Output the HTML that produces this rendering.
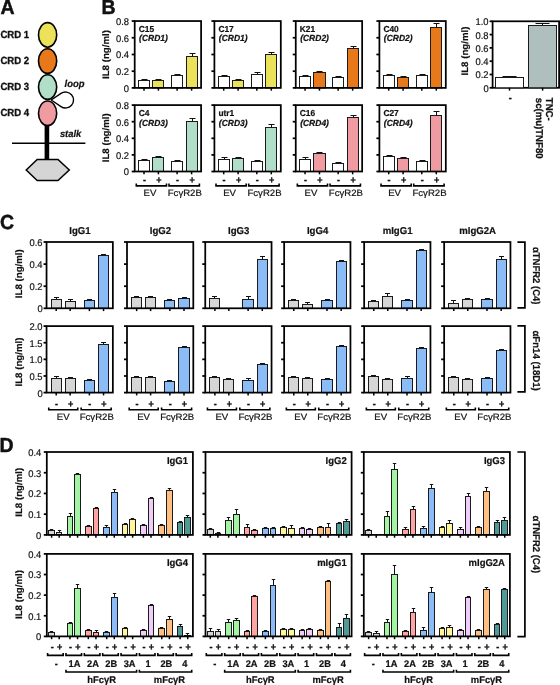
<!DOCTYPE html>
<html><head><meta charset="utf-8"><title>Figure</title>
<style>
html,body{margin:0;padding:0;background:#fff;}
body{width:560px;height:685px;overflow:hidden;}
svg{display:block;font-family:'Liberation Sans', Arial, sans-serif;text-rendering:geometricPrecision;}
</style></head><body>
<svg width="560" height="685" viewBox="0 0 560 685">
<rect width="560" height="685" fill="#fff"/>
<text transform="translate(0.60 13.90) scale(1.0 1.04)" font-size="19.5" font-weight="bold" fill="#111" stroke="#111" stroke-width="0.45">A</text>
<text transform="translate(0.40 37.65) scale(1.0 1.08)" font-size="9.6" font-weight="bold" fill="#111" stroke="#111" stroke-width="0.3">CRD 1</text>
<text transform="translate(0.40 63.75) scale(1.0 1.08)" font-size="9.6" font-weight="bold" fill="#111" stroke="#111" stroke-width="0.3">CRD 2</text>
<text transform="translate(0.40 89.85) scale(1.0 1.08)" font-size="9.6" font-weight="bold" fill="#111" stroke="#111" stroke-width="0.3">CRD 3</text>
<text transform="translate(0.40 116.05) scale(1.0 1.08)" font-size="9.6" font-weight="bold" fill="#111" stroke="#111" stroke-width="0.3">CRD 4</text>
<rect x="44.6" y="120" width="4.6" height="40" fill="#000"/>
<line x1="12.00" y1="143.30" x2="85.40" y2="143.30" stroke="#000" stroke-width="1.5" stroke-linecap="butt"/>
<path d="M51.25 100 L61 93.4 A8 8 0 1 1 61 106.6 Z" fill="none" stroke="#000" stroke-width="1.35" stroke-linejoin="round"/>
<ellipse cx="47.6" cy="34.9" rx="9.1" ry="12.3" fill="#ebe25a" stroke="#000" stroke-width="1.6"/>
<ellipse cx="47.6" cy="61.0" rx="9.1" ry="12.3" fill="#e8791b" stroke="#000" stroke-width="1.6"/>
<ellipse cx="47.6" cy="87.1" rx="9.1" ry="12.3" fill="#b1dec8" stroke="#000" stroke-width="1.6"/>
<ellipse cx="47.6" cy="113.3" rx="9.1" ry="12.3" fill="#f09aa2" stroke="#000" stroke-width="1.6"/>
<text transform="translate(64.60 87.40) scale(1.0 1.04)" font-size="9.5" font-weight="bold" font-style="italic" fill="#111" stroke="#111" stroke-width="0.2">loop</text>
<text transform="translate(59.90 136.80) scale(1.0 1.04)" font-size="9.4" font-weight="bold" font-style="italic" fill="#111" stroke="#111" stroke-width="0.2">stalk</text>
<polygon points="26.2,170 37.2,159.4 58,159.4 69.3,170 58,180.6 37.2,180.6" fill="#d5d5d5" stroke="#000" stroke-width="1.5"/>
<text transform="translate(101.50 13.90) scale(1.0 1.04)" font-size="19.5" font-weight="bold" fill="#111" stroke="#111" stroke-width="0.45">B</text>
<line x1="144.50" y1="79.50" x2="144.50" y2="80.00" stroke="#111" stroke-width="1.0" stroke-linecap="butt"/>
<line x1="141.50" y1="79.50" x2="147.50" y2="79.50" stroke="#111" stroke-width="1.0" stroke-linecap="butt"/>
<rect x="138.50" y="80.50" width="11.00" height="7.40" fill="#ffffff" stroke="#1a1a1a" stroke-width="1.0"/>
<line x1="158.50" y1="79.50" x2="158.50" y2="80.00" stroke="#111" stroke-width="1.0" stroke-linecap="butt"/>
<line x1="155.50" y1="79.50" x2="161.50" y2="79.50" stroke="#111" stroke-width="1.0" stroke-linecap="butt"/>
<rect x="152.50" y="80.50" width="11.00" height="7.40" fill="#ebe25a" stroke="#1a1a1a" stroke-width="1.0"/>
<line x1="177.50" y1="74.50" x2="177.50" y2="75.00" stroke="#111" stroke-width="1.0" stroke-linecap="butt"/>
<line x1="174.50" y1="74.50" x2="180.50" y2="74.50" stroke="#111" stroke-width="1.0" stroke-linecap="butt"/>
<rect x="171.50" y="75.50" width="11.00" height="12.40" fill="#ffffff" stroke="#1a1a1a" stroke-width="1.0"/>
<line x1="192.50" y1="53.50" x2="192.50" y2="56.00" stroke="#111" stroke-width="1.0" stroke-linecap="butt"/>
<line x1="189.50" y1="53.50" x2="195.50" y2="53.50" stroke="#111" stroke-width="1.0" stroke-linecap="butt"/>
<rect x="186.50" y="56.50" width="11.00" height="31.40" fill="#ebe25a" stroke="#1a1a1a" stroke-width="1.0"/>
<rect x="134.70" y="21.05" width="66.40" height="66.85" fill="none" stroke="#000" stroke-width="1.75"/>
<line x1="131.70" y1="21.05" x2="134.70" y2="21.05" stroke="#000" stroke-width="1.75" stroke-linecap="butt"/>
<line x1="131.70" y1="37.76" x2="134.70" y2="37.76" stroke="#000" stroke-width="1.75" stroke-linecap="butt"/>
<line x1="131.70" y1="54.48" x2="134.70" y2="54.48" stroke="#000" stroke-width="1.75" stroke-linecap="butt"/>
<line x1="131.70" y1="71.19" x2="134.70" y2="71.19" stroke="#000" stroke-width="1.75" stroke-linecap="butt"/>
<line x1="131.70" y1="87.90" x2="134.70" y2="87.90" stroke="#000" stroke-width="1.75" stroke-linecap="butt"/>
<line x1="144.00" y1="87.90" x2="144.00" y2="90.70" stroke="#000" stroke-width="1.5" stroke-linecap="butt"/>
<line x1="158.40" y1="87.90" x2="158.40" y2="90.70" stroke="#000" stroke-width="1.5" stroke-linecap="butt"/>
<line x1="177.10" y1="87.90" x2="177.10" y2="90.70" stroke="#000" stroke-width="1.5" stroke-linecap="butt"/>
<line x1="191.60" y1="87.90" x2="191.60" y2="90.70" stroke="#000" stroke-width="1.5" stroke-linecap="butt"/>
<text transform="translate(138.70 31.65) scale(1.0 1.04)" font-size="8.4" font-weight="bold" fill="#111" stroke="#111" stroke-width="0.2">C15</text>
<text transform="translate(139.10 41.45) scale(1.0 1.04)" font-size="8.5" font-weight="bold" font-style="italic" fill="#111" stroke="#111" stroke-width="0.2">(CRD1)</text>
<line x1="224.50" y1="75.50" x2="224.50" y2="76.00" stroke="#111" stroke-width="1.0" stroke-linecap="butt"/>
<line x1="221.50" y1="75.50" x2="227.50" y2="75.50" stroke="#111" stroke-width="1.0" stroke-linecap="butt"/>
<rect x="218.50" y="76.50" width="11.00" height="11.40" fill="#ffffff" stroke="#1a1a1a" stroke-width="1.0"/>
<line x1="238.50" y1="79.50" x2="238.50" y2="80.00" stroke="#111" stroke-width="1.0" stroke-linecap="butt"/>
<line x1="235.50" y1="79.50" x2="241.50" y2="79.50" stroke="#111" stroke-width="1.0" stroke-linecap="butt"/>
<rect x="232.50" y="80.50" width="11.00" height="7.40" fill="#ebe25a" stroke="#1a1a1a" stroke-width="1.0"/>
<line x1="257.50" y1="72.50" x2="257.50" y2="74.00" stroke="#111" stroke-width="1.0" stroke-linecap="butt"/>
<line x1="254.50" y1="72.50" x2="260.50" y2="72.50" stroke="#111" stroke-width="1.0" stroke-linecap="butt"/>
<rect x="251.50" y="74.50" width="11.00" height="13.40" fill="#ffffff" stroke="#1a1a1a" stroke-width="1.0"/>
<line x1="271.50" y1="52.50" x2="271.50" y2="54.00" stroke="#111" stroke-width="1.0" stroke-linecap="butt"/>
<line x1="268.50" y1="52.50" x2="274.50" y2="52.50" stroke="#111" stroke-width="1.0" stroke-linecap="butt"/>
<rect x="265.50" y="54.50" width="11.00" height="33.40" fill="#ebe25a" stroke="#1a1a1a" stroke-width="1.0"/>
<rect x="214.40" y="21.05" width="66.40" height="66.85" fill="none" stroke="#000" stroke-width="1.75"/>
<line x1="211.40" y1="21.05" x2="214.40" y2="21.05" stroke="#000" stroke-width="1.75" stroke-linecap="butt"/>
<line x1="211.40" y1="37.76" x2="214.40" y2="37.76" stroke="#000" stroke-width="1.75" stroke-linecap="butt"/>
<line x1="211.40" y1="54.48" x2="214.40" y2="54.48" stroke="#000" stroke-width="1.75" stroke-linecap="butt"/>
<line x1="211.40" y1="71.19" x2="214.40" y2="71.19" stroke="#000" stroke-width="1.75" stroke-linecap="butt"/>
<line x1="211.40" y1="87.90" x2="214.40" y2="87.90" stroke="#000" stroke-width="1.75" stroke-linecap="butt"/>
<line x1="223.70" y1="87.90" x2="223.70" y2="90.70" stroke="#000" stroke-width="1.5" stroke-linecap="butt"/>
<line x1="238.10" y1="87.90" x2="238.10" y2="90.70" stroke="#000" stroke-width="1.5" stroke-linecap="butt"/>
<line x1="256.80" y1="87.90" x2="256.80" y2="90.70" stroke="#000" stroke-width="1.5" stroke-linecap="butt"/>
<line x1="271.30" y1="87.90" x2="271.30" y2="90.70" stroke="#000" stroke-width="1.5" stroke-linecap="butt"/>
<text transform="translate(218.40 31.65) scale(1.0 1.04)" font-size="8.4" font-weight="bold" fill="#111" stroke="#111" stroke-width="0.2">C17</text>
<text transform="translate(218.80 41.45) scale(1.0 1.04)" font-size="8.5" font-weight="bold" font-style="italic" fill="#111" stroke="#111" stroke-width="0.2">(CRD1)</text>
<line x1="305.50" y1="75.50" x2="305.50" y2="76.00" stroke="#111" stroke-width="1.0" stroke-linecap="butt"/>
<line x1="302.50" y1="75.50" x2="308.50" y2="75.50" stroke="#111" stroke-width="1.0" stroke-linecap="butt"/>
<rect x="299.50" y="76.50" width="11.00" height="11.40" fill="#ffffff" stroke="#1a1a1a" stroke-width="1.0"/>
<line x1="319.50" y1="71.50" x2="319.50" y2="72.00" stroke="#111" stroke-width="1.0" stroke-linecap="butt"/>
<line x1="316.50" y1="71.50" x2="322.50" y2="71.50" stroke="#111" stroke-width="1.0" stroke-linecap="butt"/>
<rect x="313.50" y="72.50" width="12.00" height="15.40" fill="#e8791b" stroke="#1a1a1a" stroke-width="1.0"/>
<line x1="338.50" y1="76.50" x2="338.50" y2="77.00" stroke="#111" stroke-width="1.0" stroke-linecap="butt"/>
<line x1="335.50" y1="76.50" x2="341.50" y2="76.50" stroke="#111" stroke-width="1.0" stroke-linecap="butt"/>
<rect x="332.50" y="77.50" width="11.00" height="10.40" fill="#ffffff" stroke="#1a1a1a" stroke-width="1.0"/>
<line x1="353.50" y1="46.50" x2="353.50" y2="48.00" stroke="#111" stroke-width="1.0" stroke-linecap="butt"/>
<line x1="350.50" y1="46.50" x2="356.50" y2="46.50" stroke="#111" stroke-width="1.0" stroke-linecap="butt"/>
<rect x="347.50" y="48.50" width="11.00" height="39.40" fill="#e8791b" stroke="#1a1a1a" stroke-width="1.0"/>
<rect x="295.75" y="21.05" width="66.40" height="66.85" fill="none" stroke="#000" stroke-width="1.75"/>
<line x1="292.75" y1="21.05" x2="295.75" y2="21.05" stroke="#000" stroke-width="1.75" stroke-linecap="butt"/>
<line x1="292.75" y1="37.76" x2="295.75" y2="37.76" stroke="#000" stroke-width="1.75" stroke-linecap="butt"/>
<line x1="292.75" y1="54.48" x2="295.75" y2="54.48" stroke="#000" stroke-width="1.75" stroke-linecap="butt"/>
<line x1="292.75" y1="71.19" x2="295.75" y2="71.19" stroke="#000" stroke-width="1.75" stroke-linecap="butt"/>
<line x1="292.75" y1="87.90" x2="295.75" y2="87.90" stroke="#000" stroke-width="1.75" stroke-linecap="butt"/>
<line x1="305.05" y1="87.90" x2="305.05" y2="90.70" stroke="#000" stroke-width="1.5" stroke-linecap="butt"/>
<line x1="319.45" y1="87.90" x2="319.45" y2="90.70" stroke="#000" stroke-width="1.5" stroke-linecap="butt"/>
<line x1="338.15" y1="87.90" x2="338.15" y2="90.70" stroke="#000" stroke-width="1.5" stroke-linecap="butt"/>
<line x1="352.65" y1="87.90" x2="352.65" y2="90.70" stroke="#000" stroke-width="1.5" stroke-linecap="butt"/>
<text transform="translate(299.75 31.65) scale(1.0 1.04)" font-size="8.4" font-weight="bold" fill="#111" stroke="#111" stroke-width="0.2">K21</text>
<text transform="translate(300.15 41.45) scale(1.0 1.04)" font-size="8.5" font-weight="bold" font-style="italic" fill="#111" stroke="#111" stroke-width="0.2">(CRD2)</text>
<line x1="389.50" y1="74.50" x2="389.50" y2="75.00" stroke="#111" stroke-width="1.0" stroke-linecap="butt"/>
<line x1="386.50" y1="74.50" x2="392.50" y2="74.50" stroke="#111" stroke-width="1.0" stroke-linecap="butt"/>
<rect x="383.50" y="75.50" width="11.00" height="12.40" fill="#ffffff" stroke="#1a1a1a" stroke-width="1.0"/>
<line x1="403.50" y1="76.50" x2="403.50" y2="77.00" stroke="#111" stroke-width="1.0" stroke-linecap="butt"/>
<line x1="400.50" y1="76.50" x2="406.50" y2="76.50" stroke="#111" stroke-width="1.0" stroke-linecap="butt"/>
<rect x="397.50" y="77.50" width="11.00" height="10.40" fill="#e8791b" stroke="#1a1a1a" stroke-width="1.0"/>
<line x1="422.50" y1="74.50" x2="422.50" y2="75.00" stroke="#111" stroke-width="1.0" stroke-linecap="butt"/>
<line x1="419.50" y1="74.50" x2="425.50" y2="74.50" stroke="#111" stroke-width="1.0" stroke-linecap="butt"/>
<rect x="416.50" y="75.50" width="11.00" height="12.40" fill="#ffffff" stroke="#1a1a1a" stroke-width="1.0"/>
<line x1="436.50" y1="23.50" x2="436.50" y2="27.00" stroke="#111" stroke-width="1.0" stroke-linecap="butt"/>
<line x1="433.50" y1="23.50" x2="439.50" y2="23.50" stroke="#111" stroke-width="1.0" stroke-linecap="butt"/>
<rect x="430.50" y="27.50" width="11.00" height="60.40" fill="#e8791b" stroke="#1a1a1a" stroke-width="1.0"/>
<rect x="379.40" y="21.05" width="66.40" height="66.85" fill="none" stroke="#000" stroke-width="1.75"/>
<line x1="376.40" y1="21.05" x2="379.40" y2="21.05" stroke="#000" stroke-width="1.75" stroke-linecap="butt"/>
<line x1="376.40" y1="37.76" x2="379.40" y2="37.76" stroke="#000" stroke-width="1.75" stroke-linecap="butt"/>
<line x1="376.40" y1="54.48" x2="379.40" y2="54.48" stroke="#000" stroke-width="1.75" stroke-linecap="butt"/>
<line x1="376.40" y1="71.19" x2="379.40" y2="71.19" stroke="#000" stroke-width="1.75" stroke-linecap="butt"/>
<line x1="376.40" y1="87.90" x2="379.40" y2="87.90" stroke="#000" stroke-width="1.75" stroke-linecap="butt"/>
<line x1="388.70" y1="87.90" x2="388.70" y2="90.70" stroke="#000" stroke-width="1.5" stroke-linecap="butt"/>
<line x1="403.10" y1="87.90" x2="403.10" y2="90.70" stroke="#000" stroke-width="1.5" stroke-linecap="butt"/>
<line x1="421.80" y1="87.90" x2="421.80" y2="90.70" stroke="#000" stroke-width="1.5" stroke-linecap="butt"/>
<line x1="436.30" y1="87.90" x2="436.30" y2="90.70" stroke="#000" stroke-width="1.5" stroke-linecap="butt"/>
<text transform="translate(383.40 31.65) scale(1.0 1.04)" font-size="8.4" font-weight="bold" fill="#111" stroke="#111" stroke-width="0.2">C40</text>
<text transform="translate(383.80 41.45) scale(1.0 1.04)" font-size="8.5" font-weight="bold" font-style="italic" fill="#111" stroke="#111" stroke-width="0.2">(CRD2)</text>
<text transform="translate(129.00 91.80) scale(1.0 1.04)" font-size="9.4" text-anchor="end" fill="#111" stroke="#111" stroke-width="0.18">0</text>
<text transform="translate(129.00 75.09) scale(1.0 1.04)" font-size="9.4" text-anchor="end" fill="#111" stroke="#111" stroke-width="0.18">0.2</text>
<text transform="translate(129.00 58.38) scale(1.0 1.04)" font-size="9.4" text-anchor="end" fill="#111" stroke="#111" stroke-width="0.18">0.4</text>
<text transform="translate(129.00 41.66) scale(1.0 1.04)" font-size="9.4" text-anchor="end" fill="#111" stroke="#111" stroke-width="0.18">0.6</text>
<text transform="translate(129.00 24.95) scale(1.0 1.04)" font-size="9.4" text-anchor="end" fill="#111" stroke="#111" stroke-width="0.18">0.8</text>
<text transform="translate(109.20 54.50) rotate(-90) scale(1.0 0.97)" font-size="9.7" font-weight="bold" text-anchor="middle" fill="#111" stroke="#111" stroke-width="0.2">IL8 (ng/ml)</text>
<line x1="144.50" y1="159.50" x2="144.50" y2="160.00" stroke="#111" stroke-width="1.0" stroke-linecap="butt"/>
<line x1="141.50" y1="159.50" x2="147.50" y2="159.50" stroke="#111" stroke-width="1.0" stroke-linecap="butt"/>
<rect x="138.50" y="160.50" width="11.00" height="11.00" fill="#ffffff" stroke="#1a1a1a" stroke-width="1.0"/>
<line x1="158.50" y1="156.50" x2="158.50" y2="157.00" stroke="#111" stroke-width="1.0" stroke-linecap="butt"/>
<line x1="155.50" y1="156.50" x2="161.50" y2="156.50" stroke="#111" stroke-width="1.0" stroke-linecap="butt"/>
<rect x="152.50" y="157.50" width="11.00" height="14.00" fill="#b1dec8" stroke="#1a1a1a" stroke-width="1.0"/>
<line x1="177.50" y1="160.50" x2="177.50" y2="161.00" stroke="#111" stroke-width="1.0" stroke-linecap="butt"/>
<line x1="174.50" y1="160.50" x2="180.50" y2="160.50" stroke="#111" stroke-width="1.0" stroke-linecap="butt"/>
<rect x="171.50" y="161.50" width="11.00" height="10.00" fill="#ffffff" stroke="#1a1a1a" stroke-width="1.0"/>
<line x1="192.50" y1="118.50" x2="192.50" y2="121.00" stroke="#111" stroke-width="1.0" stroke-linecap="butt"/>
<line x1="189.50" y1="118.50" x2="195.50" y2="118.50" stroke="#111" stroke-width="1.0" stroke-linecap="butt"/>
<rect x="186.50" y="121.50" width="11.00" height="50.00" fill="#b1dec8" stroke="#1a1a1a" stroke-width="1.0"/>
<rect x="134.70" y="105.10" width="66.40" height="66.40" fill="none" stroke="#000" stroke-width="1.75"/>
<line x1="131.70" y1="105.10" x2="134.70" y2="105.10" stroke="#000" stroke-width="1.75" stroke-linecap="butt"/>
<line x1="131.70" y1="121.70" x2="134.70" y2="121.70" stroke="#000" stroke-width="1.75" stroke-linecap="butt"/>
<line x1="131.70" y1="138.30" x2="134.70" y2="138.30" stroke="#000" stroke-width="1.75" stroke-linecap="butt"/>
<line x1="131.70" y1="154.90" x2="134.70" y2="154.90" stroke="#000" stroke-width="1.75" stroke-linecap="butt"/>
<line x1="131.70" y1="171.50" x2="134.70" y2="171.50" stroke="#000" stroke-width="1.75" stroke-linecap="butt"/>
<line x1="144.00" y1="171.50" x2="144.00" y2="174.30" stroke="#000" stroke-width="1.5" stroke-linecap="butt"/>
<line x1="158.40" y1="171.50" x2="158.40" y2="174.30" stroke="#000" stroke-width="1.5" stroke-linecap="butt"/>
<line x1="177.10" y1="171.50" x2="177.10" y2="174.30" stroke="#000" stroke-width="1.5" stroke-linecap="butt"/>
<line x1="191.60" y1="171.50" x2="191.60" y2="174.30" stroke="#000" stroke-width="1.5" stroke-linecap="butt"/>
<text transform="translate(138.70 115.70) scale(1.0 1.04)" font-size="8.4" font-weight="bold" fill="#111" stroke="#111" stroke-width="0.2">C4</text>
<text transform="translate(139.10 125.50) scale(1.0 1.04)" font-size="8.5" font-weight="bold" font-style="italic" fill="#111" stroke="#111" stroke-width="0.2">(CRD3)</text>
<line x1="224.50" y1="157.50" x2="224.50" y2="159.00" stroke="#111" stroke-width="1.0" stroke-linecap="butt"/>
<line x1="221.50" y1="157.50" x2="227.50" y2="157.50" stroke="#111" stroke-width="1.0" stroke-linecap="butt"/>
<rect x="218.50" y="159.50" width="11.00" height="12.00" fill="#ffffff" stroke="#1a1a1a" stroke-width="1.0"/>
<line x1="238.50" y1="157.50" x2="238.50" y2="158.00" stroke="#111" stroke-width="1.0" stroke-linecap="butt"/>
<line x1="235.50" y1="157.50" x2="241.50" y2="157.50" stroke="#111" stroke-width="1.0" stroke-linecap="butt"/>
<rect x="232.50" y="158.50" width="11.00" height="13.00" fill="#b1dec8" stroke="#1a1a1a" stroke-width="1.0"/>
<line x1="257.50" y1="160.50" x2="257.50" y2="161.00" stroke="#111" stroke-width="1.0" stroke-linecap="butt"/>
<line x1="254.50" y1="160.50" x2="260.50" y2="160.50" stroke="#111" stroke-width="1.0" stroke-linecap="butt"/>
<rect x="251.50" y="161.50" width="11.00" height="10.00" fill="#ffffff" stroke="#1a1a1a" stroke-width="1.0"/>
<line x1="271.50" y1="124.50" x2="271.50" y2="127.00" stroke="#111" stroke-width="1.0" stroke-linecap="butt"/>
<line x1="268.50" y1="124.50" x2="274.50" y2="124.50" stroke="#111" stroke-width="1.0" stroke-linecap="butt"/>
<rect x="265.50" y="127.50" width="11.00" height="44.00" fill="#b1dec8" stroke="#1a1a1a" stroke-width="1.0"/>
<rect x="214.40" y="105.10" width="66.40" height="66.40" fill="none" stroke="#000" stroke-width="1.75"/>
<line x1="211.40" y1="105.10" x2="214.40" y2="105.10" stroke="#000" stroke-width="1.75" stroke-linecap="butt"/>
<line x1="211.40" y1="121.70" x2="214.40" y2="121.70" stroke="#000" stroke-width="1.75" stroke-linecap="butt"/>
<line x1="211.40" y1="138.30" x2="214.40" y2="138.30" stroke="#000" stroke-width="1.75" stroke-linecap="butt"/>
<line x1="211.40" y1="154.90" x2="214.40" y2="154.90" stroke="#000" stroke-width="1.75" stroke-linecap="butt"/>
<line x1="211.40" y1="171.50" x2="214.40" y2="171.50" stroke="#000" stroke-width="1.75" stroke-linecap="butt"/>
<line x1="223.70" y1="171.50" x2="223.70" y2="174.30" stroke="#000" stroke-width="1.5" stroke-linecap="butt"/>
<line x1="238.10" y1="171.50" x2="238.10" y2="174.30" stroke="#000" stroke-width="1.5" stroke-linecap="butt"/>
<line x1="256.80" y1="171.50" x2="256.80" y2="174.30" stroke="#000" stroke-width="1.5" stroke-linecap="butt"/>
<line x1="271.30" y1="171.50" x2="271.30" y2="174.30" stroke="#000" stroke-width="1.5" stroke-linecap="butt"/>
<text transform="translate(218.40 115.70) scale(1.0 1.04)" font-size="8.4" font-weight="bold" fill="#111" stroke="#111" stroke-width="0.2">utr1</text>
<text transform="translate(218.80 125.50) scale(1.0 1.04)" font-size="8.5" font-weight="bold" font-style="italic" fill="#111" stroke="#111" stroke-width="0.2">(CRD3)</text>
<line x1="305.50" y1="157.50" x2="305.50" y2="159.00" stroke="#111" stroke-width="1.0" stroke-linecap="butt"/>
<line x1="302.50" y1="157.50" x2="308.50" y2="157.50" stroke="#111" stroke-width="1.0" stroke-linecap="butt"/>
<rect x="299.50" y="159.50" width="11.00" height="12.00" fill="#ffffff" stroke="#1a1a1a" stroke-width="1.0"/>
<line x1="319.50" y1="152.50" x2="319.50" y2="153.00" stroke="#111" stroke-width="1.0" stroke-linecap="butt"/>
<line x1="316.50" y1="152.50" x2="322.50" y2="152.50" stroke="#111" stroke-width="1.0" stroke-linecap="butt"/>
<rect x="313.50" y="153.50" width="12.00" height="18.00" fill="#f09aa2" stroke="#1a1a1a" stroke-width="1.0"/>
<line x1="338.50" y1="162.50" x2="338.50" y2="163.00" stroke="#111" stroke-width="1.0" stroke-linecap="butt"/>
<line x1="335.50" y1="162.50" x2="341.50" y2="162.50" stroke="#111" stroke-width="1.0" stroke-linecap="butt"/>
<rect x="332.50" y="163.50" width="11.00" height="8.00" fill="#ffffff" stroke="#1a1a1a" stroke-width="1.0"/>
<line x1="353.50" y1="115.50" x2="353.50" y2="117.00" stroke="#111" stroke-width="1.0" stroke-linecap="butt"/>
<line x1="350.50" y1="115.50" x2="356.50" y2="115.50" stroke="#111" stroke-width="1.0" stroke-linecap="butt"/>
<rect x="347.50" y="117.50" width="11.00" height="54.00" fill="#f09aa2" stroke="#1a1a1a" stroke-width="1.0"/>
<rect x="295.75" y="105.10" width="66.40" height="66.40" fill="none" stroke="#000" stroke-width="1.75"/>
<line x1="292.75" y1="105.10" x2="295.75" y2="105.10" stroke="#000" stroke-width="1.75" stroke-linecap="butt"/>
<line x1="292.75" y1="121.70" x2="295.75" y2="121.70" stroke="#000" stroke-width="1.75" stroke-linecap="butt"/>
<line x1="292.75" y1="138.30" x2="295.75" y2="138.30" stroke="#000" stroke-width="1.75" stroke-linecap="butt"/>
<line x1="292.75" y1="154.90" x2="295.75" y2="154.90" stroke="#000" stroke-width="1.75" stroke-linecap="butt"/>
<line x1="292.75" y1="171.50" x2="295.75" y2="171.50" stroke="#000" stroke-width="1.75" stroke-linecap="butt"/>
<line x1="305.05" y1="171.50" x2="305.05" y2="174.30" stroke="#000" stroke-width="1.5" stroke-linecap="butt"/>
<line x1="319.45" y1="171.50" x2="319.45" y2="174.30" stroke="#000" stroke-width="1.5" stroke-linecap="butt"/>
<line x1="338.15" y1="171.50" x2="338.15" y2="174.30" stroke="#000" stroke-width="1.5" stroke-linecap="butt"/>
<line x1="352.65" y1="171.50" x2="352.65" y2="174.30" stroke="#000" stroke-width="1.5" stroke-linecap="butt"/>
<text transform="translate(299.75 115.70) scale(1.0 1.04)" font-size="8.4" font-weight="bold" fill="#111" stroke="#111" stroke-width="0.2">C16</text>
<text transform="translate(300.15 125.50) scale(1.0 1.04)" font-size="8.5" font-weight="bold" font-style="italic" fill="#111" stroke="#111" stroke-width="0.2">(CRD4)</text>
<line x1="389.50" y1="155.50" x2="389.50" y2="156.00" stroke="#111" stroke-width="1.0" stroke-linecap="butt"/>
<line x1="386.50" y1="155.50" x2="392.50" y2="155.50" stroke="#111" stroke-width="1.0" stroke-linecap="butt"/>
<rect x="383.50" y="156.50" width="11.00" height="15.00" fill="#ffffff" stroke="#1a1a1a" stroke-width="1.0"/>
<line x1="403.50" y1="157.50" x2="403.50" y2="158.00" stroke="#111" stroke-width="1.0" stroke-linecap="butt"/>
<line x1="400.50" y1="157.50" x2="406.50" y2="157.50" stroke="#111" stroke-width="1.0" stroke-linecap="butt"/>
<rect x="397.50" y="158.50" width="11.00" height="13.00" fill="#f09aa2" stroke="#1a1a1a" stroke-width="1.0"/>
<line x1="422.50" y1="160.50" x2="422.50" y2="161.00" stroke="#111" stroke-width="1.0" stroke-linecap="butt"/>
<line x1="419.50" y1="160.50" x2="425.50" y2="160.50" stroke="#111" stroke-width="1.0" stroke-linecap="butt"/>
<rect x="416.50" y="161.50" width="11.00" height="10.00" fill="#ffffff" stroke="#1a1a1a" stroke-width="1.0"/>
<line x1="436.50" y1="111.50" x2="436.50" y2="115.00" stroke="#111" stroke-width="1.0" stroke-linecap="butt"/>
<line x1="433.50" y1="111.50" x2="439.50" y2="111.50" stroke="#111" stroke-width="1.0" stroke-linecap="butt"/>
<rect x="430.50" y="115.50" width="11.00" height="56.00" fill="#f09aa2" stroke="#1a1a1a" stroke-width="1.0"/>
<rect x="379.40" y="105.10" width="66.40" height="66.40" fill="none" stroke="#000" stroke-width="1.75"/>
<line x1="376.40" y1="105.10" x2="379.40" y2="105.10" stroke="#000" stroke-width="1.75" stroke-linecap="butt"/>
<line x1="376.40" y1="121.70" x2="379.40" y2="121.70" stroke="#000" stroke-width="1.75" stroke-linecap="butt"/>
<line x1="376.40" y1="138.30" x2="379.40" y2="138.30" stroke="#000" stroke-width="1.75" stroke-linecap="butt"/>
<line x1="376.40" y1="154.90" x2="379.40" y2="154.90" stroke="#000" stroke-width="1.75" stroke-linecap="butt"/>
<line x1="376.40" y1="171.50" x2="379.40" y2="171.50" stroke="#000" stroke-width="1.75" stroke-linecap="butt"/>
<line x1="388.70" y1="171.50" x2="388.70" y2="174.30" stroke="#000" stroke-width="1.5" stroke-linecap="butt"/>
<line x1="403.10" y1="171.50" x2="403.10" y2="174.30" stroke="#000" stroke-width="1.5" stroke-linecap="butt"/>
<line x1="421.80" y1="171.50" x2="421.80" y2="174.30" stroke="#000" stroke-width="1.5" stroke-linecap="butt"/>
<line x1="436.30" y1="171.50" x2="436.30" y2="174.30" stroke="#000" stroke-width="1.5" stroke-linecap="butt"/>
<text transform="translate(383.40 115.70) scale(1.0 1.04)" font-size="8.4" font-weight="bold" fill="#111" stroke="#111" stroke-width="0.2">C27</text>
<text transform="translate(383.80 125.50) scale(1.0 1.04)" font-size="8.5" font-weight="bold" font-style="italic" fill="#111" stroke="#111" stroke-width="0.2">(CRD4)</text>
<text transform="translate(129.00 175.40) scale(1.0 1.04)" font-size="9.4" text-anchor="end" fill="#111" stroke="#111" stroke-width="0.18">0</text>
<text transform="translate(129.00 158.80) scale(1.0 1.04)" font-size="9.4" text-anchor="end" fill="#111" stroke="#111" stroke-width="0.18">0.2</text>
<text transform="translate(129.00 142.20) scale(1.0 1.04)" font-size="9.4" text-anchor="end" fill="#111" stroke="#111" stroke-width="0.18">0.4</text>
<text transform="translate(129.00 125.60) scale(1.0 1.04)" font-size="9.4" text-anchor="end" fill="#111" stroke="#111" stroke-width="0.18">0.6</text>
<text transform="translate(129.00 109.00) scale(1.0 1.04)" font-size="9.4" text-anchor="end" fill="#111" stroke="#111" stroke-width="0.18">0.8</text>
<text transform="translate(109.20 137.80) rotate(-90) scale(1.0 0.97)" font-size="9.7" font-weight="bold" text-anchor="middle" fill="#111" stroke="#111" stroke-width="0.2">IL8 (ng/ml)</text>
<text transform="translate(144.40 182.70) scale(1.0 1.04)" font-size="9.0" font-weight="bold" text-anchor="middle" fill="#111" stroke="#111" stroke-width="0.35">-</text>
<text transform="translate(158.80 182.70) scale(1.0 1.04)" font-size="9.0" font-weight="bold" text-anchor="middle" fill="#111" stroke="#111" stroke-width="0.35">+</text>
<text transform="translate(177.50 182.70) scale(1.0 1.04)" font-size="9.0" font-weight="bold" text-anchor="middle" fill="#111" stroke="#111" stroke-width="0.35">-</text>
<text transform="translate(192.00 182.70) scale(1.0 1.04)" font-size="9.0" font-weight="bold" text-anchor="middle" fill="#111" stroke="#111" stroke-width="0.35">+</text>
<path d="M136.30 183.60 V185.90 H166.50 V183.60" fill="none" stroke="#000" stroke-width="1.6"/>
<path d="M169.00 183.60 V185.90 H199.40 V183.60" fill="none" stroke="#000" stroke-width="1.6"/>
<text transform="translate(149.90 195.90) scale(1.08 1.04)" font-size="8.9" text-anchor="middle" fill="#111" stroke="#111" stroke-width="0.18">EV</text>
<text transform="translate(184.80 195.90) scale(1.08 1.04)" font-size="8.9" text-anchor="middle" fill="#111" stroke="#111" stroke-width="0.18">Fc&#947;R2B</text>
<text transform="translate(224.10 182.70) scale(1.0 1.04)" font-size="9.0" font-weight="bold" text-anchor="middle" fill="#111" stroke="#111" stroke-width="0.35">-</text>
<text transform="translate(238.50 182.70) scale(1.0 1.04)" font-size="9.0" font-weight="bold" text-anchor="middle" fill="#111" stroke="#111" stroke-width="0.35">+</text>
<text transform="translate(257.20 182.70) scale(1.0 1.04)" font-size="9.0" font-weight="bold" text-anchor="middle" fill="#111" stroke="#111" stroke-width="0.35">-</text>
<text transform="translate(271.70 182.70) scale(1.0 1.04)" font-size="9.0" font-weight="bold" text-anchor="middle" fill="#111" stroke="#111" stroke-width="0.35">+</text>
<path d="M216.00 183.60 V185.90 H246.20 V183.60" fill="none" stroke="#000" stroke-width="1.6"/>
<path d="M248.70 183.60 V185.90 H279.10 V183.60" fill="none" stroke="#000" stroke-width="1.6"/>
<text transform="translate(229.60 195.90) scale(1.08 1.04)" font-size="8.9" text-anchor="middle" fill="#111" stroke="#111" stroke-width="0.18">EV</text>
<text transform="translate(264.50 195.90) scale(1.08 1.04)" font-size="8.9" text-anchor="middle" fill="#111" stroke="#111" stroke-width="0.18">Fc&#947;R2B</text>
<text transform="translate(305.45 182.70) scale(1.0 1.04)" font-size="9.0" font-weight="bold" text-anchor="middle" fill="#111" stroke="#111" stroke-width="0.35">-</text>
<text transform="translate(319.85 182.70) scale(1.0 1.04)" font-size="9.0" font-weight="bold" text-anchor="middle" fill="#111" stroke="#111" stroke-width="0.35">+</text>
<text transform="translate(338.55 182.70) scale(1.0 1.04)" font-size="9.0" font-weight="bold" text-anchor="middle" fill="#111" stroke="#111" stroke-width="0.35">-</text>
<text transform="translate(353.05 182.70) scale(1.0 1.04)" font-size="9.0" font-weight="bold" text-anchor="middle" fill="#111" stroke="#111" stroke-width="0.35">+</text>
<path d="M297.35 183.60 V185.90 H327.55 V183.60" fill="none" stroke="#000" stroke-width="1.6"/>
<path d="M330.05 183.60 V185.90 H360.45 V183.60" fill="none" stroke="#000" stroke-width="1.6"/>
<text transform="translate(310.95 195.90) scale(1.08 1.04)" font-size="8.9" text-anchor="middle" fill="#111" stroke="#111" stroke-width="0.18">EV</text>
<text transform="translate(345.85 195.90) scale(1.08 1.04)" font-size="8.9" text-anchor="middle" fill="#111" stroke="#111" stroke-width="0.18">Fc&#947;R2B</text>
<text transform="translate(389.10 182.70) scale(1.0 1.04)" font-size="9.0" font-weight="bold" text-anchor="middle" fill="#111" stroke="#111" stroke-width="0.35">-</text>
<text transform="translate(403.50 182.70) scale(1.0 1.04)" font-size="9.0" font-weight="bold" text-anchor="middle" fill="#111" stroke="#111" stroke-width="0.35">+</text>
<text transform="translate(422.20 182.70) scale(1.0 1.04)" font-size="9.0" font-weight="bold" text-anchor="middle" fill="#111" stroke="#111" stroke-width="0.35">-</text>
<text transform="translate(436.70 182.70) scale(1.0 1.04)" font-size="9.0" font-weight="bold" text-anchor="middle" fill="#111" stroke="#111" stroke-width="0.35">+</text>
<path d="M381.00 183.60 V185.90 H411.20 V183.60" fill="none" stroke="#000" stroke-width="1.6"/>
<path d="M413.70 183.60 V185.90 H444.10 V183.60" fill="none" stroke="#000" stroke-width="1.6"/>
<text transform="translate(394.60 195.90) scale(1.08 1.04)" font-size="8.9" text-anchor="middle" fill="#111" stroke="#111" stroke-width="0.18">EV</text>
<text transform="translate(429.50 195.90) scale(1.08 1.04)" font-size="8.9" text-anchor="middle" fill="#111" stroke="#111" stroke-width="0.18">Fc&#947;R2B</text>
<rect x="492.60" y="21.30" width="66.50" height="66.50" fill="none" stroke="#000" stroke-width="1.75"/>
<line x1="489.60" y1="21.30" x2="492.60" y2="21.30" stroke="#000" stroke-width="1.75" stroke-linecap="butt"/>
<line x1="489.60" y1="34.60" x2="492.60" y2="34.60" stroke="#000" stroke-width="1.75" stroke-linecap="butt"/>
<line x1="489.60" y1="47.90" x2="492.60" y2="47.90" stroke="#000" stroke-width="1.75" stroke-linecap="butt"/>
<line x1="489.60" y1="61.20" x2="492.60" y2="61.20" stroke="#000" stroke-width="1.75" stroke-linecap="butt"/>
<line x1="489.60" y1="74.50" x2="492.60" y2="74.50" stroke="#000" stroke-width="1.75" stroke-linecap="butt"/>
<line x1="489.60" y1="87.80" x2="492.60" y2="87.80" stroke="#000" stroke-width="1.75" stroke-linecap="butt"/>
<text transform="translate(488.60 91.70) scale(1.0 1.04)" font-size="9.4" text-anchor="end" fill="#111" stroke="#111" stroke-width="0.18">0</text>
<text transform="translate(488.60 78.40) scale(1.0 1.04)" font-size="9.4" text-anchor="end" fill="#111" stroke="#111" stroke-width="0.18">0.2</text>
<text transform="translate(488.60 65.10) scale(1.0 1.04)" font-size="9.4" text-anchor="end" fill="#111" stroke="#111" stroke-width="0.18">0.4</text>
<text transform="translate(488.60 51.80) scale(1.0 1.04)" font-size="9.4" text-anchor="end" fill="#111" stroke="#111" stroke-width="0.18">0.6</text>
<text transform="translate(488.60 38.50) scale(1.0 1.04)" font-size="9.4" text-anchor="end" fill="#111" stroke="#111" stroke-width="0.18">0.8</text>
<text transform="translate(488.60 25.20) scale(1.0 1.04)" font-size="9.4" text-anchor="end" fill="#111" stroke="#111" stroke-width="0.18">1.0</text>
<text transform="translate(467.80 51.00) rotate(-90) scale(1.0 0.97)" font-size="9.7" font-weight="bold" text-anchor="middle" fill="#111" stroke="#111" stroke-width="0.2">IL8 (ng/ml)</text>
<line x1="509.50" y1="76.50" x2="509.50" y2="77.00" stroke="#111" stroke-width="1.0" stroke-linecap="butt"/>
<line x1="502.50" y1="76.50" x2="516.50" y2="76.50" stroke="#111" stroke-width="1.0" stroke-linecap="butt"/>
<rect x="495.50" y="77.50" width="28.00" height="10.30" fill="#ffffff" stroke="#1a1a1a" stroke-width="1.0"/>
<line x1="542.50" y1="23.50" x2="542.50" y2="25.00" stroke="#111" stroke-width="1.0" stroke-linecap="butt"/>
<line x1="535.50" y1="23.50" x2="549.50" y2="23.50" stroke="#111" stroke-width="1.0" stroke-linecap="butt"/>
<rect x="528.50" y="25.50" width="28.00" height="62.30" fill="#aebfbe" stroke="#1a1a1a" stroke-width="1.0"/>
<line x1="509.50" y1="87.80" x2="509.50" y2="90.60" stroke="#000" stroke-width="1.5" stroke-linecap="butt"/>
<line x1="542.60" y1="87.80" x2="542.60" y2="90.60" stroke="#000" stroke-width="1.5" stroke-linecap="butt"/>
<text transform="translate(510.30 100.50) scale(1.0 1.04)" font-size="9.0" font-weight="bold" text-anchor="middle" fill="#111" stroke="#111" stroke-width="0.35">-</text>
<text font-size="9.6" font-weight="bold" fill="#111" stroke="#111" stroke-width="0.25" transform="translate(546.2 97.8) rotate(90) scale(1 1.04)"><tspan x="0" y="0">TNC-</tspan><tspan x="0" y="9.6">sc(mu)TNF80</tspan></text>
<text transform="translate(0.00 228.80) scale(1.0 1.04)" font-size="19.5" font-weight="bold" fill="#111" stroke="#111" stroke-width="0.45">C</text>
<line x1="56.50" y1="297.50" x2="56.50" y2="299.00" stroke="#111" stroke-width="1.0" stroke-linecap="butt"/>
<line x1="54.00" y1="297.50" x2="59.00" y2="297.50" stroke="#111" stroke-width="1.0" stroke-linecap="butt"/>
<rect x="51.50" y="299.50" width="10.00" height="8.80" fill="#d6d6d6" stroke="#1a1a1a" stroke-width="1.0"/>
<line x1="70.50" y1="299.50" x2="70.50" y2="301.00" stroke="#111" stroke-width="1.0" stroke-linecap="butt"/>
<line x1="68.00" y1="299.50" x2="73.00" y2="299.50" stroke="#111" stroke-width="1.0" stroke-linecap="butt"/>
<rect x="65.50" y="301.50" width="10.00" height="6.80" fill="#d6d6d6" stroke="#1a1a1a" stroke-width="1.0"/>
<line x1="89.50" y1="299.50" x2="89.50" y2="300.00" stroke="#111" stroke-width="1.0" stroke-linecap="butt"/>
<line x1="87.00" y1="299.50" x2="92.00" y2="299.50" stroke="#111" stroke-width="1.0" stroke-linecap="butt"/>
<rect x="84.50" y="300.50" width="10.00" height="7.80" fill="#8cbcf8" stroke="#1a1a1a" stroke-width="1.0"/>
<line x1="103.50" y1="254.50" x2="103.50" y2="255.00" stroke="#111" stroke-width="1.0" stroke-linecap="butt"/>
<line x1="101.00" y1="254.50" x2="106.00" y2="254.50" stroke="#111" stroke-width="1.0" stroke-linecap="butt"/>
<rect x="98.50" y="255.50" width="10.00" height="52.80" fill="#8cbcf8" stroke="#1a1a1a" stroke-width="1.0"/>
<rect x="46.55" y="242.00" width="66.30" height="66.30" fill="none" stroke="#000" stroke-width="1.75"/>
<line x1="43.55" y1="242.00" x2="46.55" y2="242.00" stroke="#000" stroke-width="1.75" stroke-linecap="butt"/>
<line x1="43.55" y1="264.10" x2="46.55" y2="264.10" stroke="#000" stroke-width="1.75" stroke-linecap="butt"/>
<line x1="43.55" y1="286.20" x2="46.55" y2="286.20" stroke="#000" stroke-width="1.75" stroke-linecap="butt"/>
<line x1="43.55" y1="308.30" x2="46.55" y2="308.30" stroke="#000" stroke-width="1.75" stroke-linecap="butt"/>
<line x1="56.20" y1="308.30" x2="56.20" y2="311.10" stroke="#000" stroke-width="1.5" stroke-linecap="butt"/>
<line x1="70.15" y1="308.30" x2="70.15" y2="311.10" stroke="#000" stroke-width="1.5" stroke-linecap="butt"/>
<line x1="89.40" y1="308.30" x2="89.40" y2="311.10" stroke="#000" stroke-width="1.5" stroke-linecap="butt"/>
<line x1="103.55" y1="308.30" x2="103.55" y2="311.10" stroke="#000" stroke-width="1.5" stroke-linecap="butt"/>
<line x1="136.50" y1="296.50" x2="136.50" y2="297.00" stroke="#111" stroke-width="1.0" stroke-linecap="butt"/>
<line x1="134.00" y1="296.50" x2="139.00" y2="296.50" stroke="#111" stroke-width="1.0" stroke-linecap="butt"/>
<rect x="131.50" y="297.50" width="10.00" height="10.80" fill="#d6d6d6" stroke="#1a1a1a" stroke-width="1.0"/>
<line x1="150.50" y1="296.50" x2="150.50" y2="297.00" stroke="#111" stroke-width="1.0" stroke-linecap="butt"/>
<line x1="148.00" y1="296.50" x2="153.00" y2="296.50" stroke="#111" stroke-width="1.0" stroke-linecap="butt"/>
<rect x="145.50" y="297.50" width="10.00" height="10.80" fill="#d6d6d6" stroke="#1a1a1a" stroke-width="1.0"/>
<line x1="169.50" y1="299.50" x2="169.50" y2="300.00" stroke="#111" stroke-width="1.0" stroke-linecap="butt"/>
<line x1="167.00" y1="299.50" x2="172.00" y2="299.50" stroke="#111" stroke-width="1.0" stroke-linecap="butt"/>
<rect x="164.50" y="300.50" width="10.00" height="7.80" fill="#8cbcf8" stroke="#1a1a1a" stroke-width="1.0"/>
<line x1="184.50" y1="297.50" x2="184.50" y2="298.00" stroke="#111" stroke-width="1.0" stroke-linecap="butt"/>
<line x1="182.00" y1="297.50" x2="187.00" y2="297.50" stroke="#111" stroke-width="1.0" stroke-linecap="butt"/>
<rect x="178.50" y="298.50" width="11.00" height="9.80" fill="#8cbcf8" stroke="#1a1a1a" stroke-width="1.0"/>
<rect x="127.00" y="242.00" width="66.30" height="66.30" fill="none" stroke="#000" stroke-width="1.75"/>
<line x1="124.00" y1="242.00" x2="127.00" y2="242.00" stroke="#000" stroke-width="1.75" stroke-linecap="butt"/>
<line x1="124.00" y1="264.10" x2="127.00" y2="264.10" stroke="#000" stroke-width="1.75" stroke-linecap="butt"/>
<line x1="124.00" y1="286.20" x2="127.00" y2="286.20" stroke="#000" stroke-width="1.75" stroke-linecap="butt"/>
<line x1="124.00" y1="308.30" x2="127.00" y2="308.30" stroke="#000" stroke-width="1.75" stroke-linecap="butt"/>
<line x1="136.65" y1="308.30" x2="136.65" y2="311.10" stroke="#000" stroke-width="1.5" stroke-linecap="butt"/>
<line x1="150.60" y1="308.30" x2="150.60" y2="311.10" stroke="#000" stroke-width="1.5" stroke-linecap="butt"/>
<line x1="169.85" y1="308.30" x2="169.85" y2="311.10" stroke="#000" stroke-width="1.5" stroke-linecap="butt"/>
<line x1="184.00" y1="308.30" x2="184.00" y2="311.10" stroke="#000" stroke-width="1.5" stroke-linecap="butt"/>
<line x1="214.50" y1="296.50" x2="214.50" y2="298.00" stroke="#111" stroke-width="1.0" stroke-linecap="butt"/>
<line x1="212.00" y1="296.50" x2="217.00" y2="296.50" stroke="#111" stroke-width="1.0" stroke-linecap="butt"/>
<rect x="209.50" y="298.50" width="10.00" height="9.80" fill="#d6d6d6" stroke="#1a1a1a" stroke-width="1.0"/>
<line x1="248.50" y1="296.50" x2="248.50" y2="299.00" stroke="#111" stroke-width="1.0" stroke-linecap="butt"/>
<line x1="246.00" y1="296.50" x2="251.00" y2="296.50" stroke="#111" stroke-width="1.0" stroke-linecap="butt"/>
<rect x="242.50" y="299.50" width="11.00" height="8.80" fill="#8cbcf8" stroke="#1a1a1a" stroke-width="1.0"/>
<line x1="262.50" y1="256.50" x2="262.50" y2="259.00" stroke="#111" stroke-width="1.0" stroke-linecap="butt"/>
<line x1="260.00" y1="256.50" x2="265.00" y2="256.50" stroke="#111" stroke-width="1.0" stroke-linecap="butt"/>
<rect x="257.50" y="259.50" width="10.00" height="48.80" fill="#8cbcf8" stroke="#1a1a1a" stroke-width="1.0"/>
<rect x="205.25" y="242.00" width="66.30" height="66.30" fill="none" stroke="#000" stroke-width="1.75"/>
<line x1="202.25" y1="242.00" x2="205.25" y2="242.00" stroke="#000" stroke-width="1.75" stroke-linecap="butt"/>
<line x1="202.25" y1="264.10" x2="205.25" y2="264.10" stroke="#000" stroke-width="1.75" stroke-linecap="butt"/>
<line x1="202.25" y1="286.20" x2="205.25" y2="286.20" stroke="#000" stroke-width="1.75" stroke-linecap="butt"/>
<line x1="202.25" y1="308.30" x2="205.25" y2="308.30" stroke="#000" stroke-width="1.75" stroke-linecap="butt"/>
<line x1="214.90" y1="308.30" x2="214.90" y2="311.10" stroke="#000" stroke-width="1.5" stroke-linecap="butt"/>
<line x1="228.85" y1="308.30" x2="228.85" y2="311.10" stroke="#000" stroke-width="1.5" stroke-linecap="butt"/>
<line x1="248.10" y1="308.30" x2="248.10" y2="311.10" stroke="#000" stroke-width="1.5" stroke-linecap="butt"/>
<line x1="262.25" y1="308.30" x2="262.25" y2="311.10" stroke="#000" stroke-width="1.5" stroke-linecap="butt"/>
<line x1="293.50" y1="299.50" x2="293.50" y2="300.00" stroke="#111" stroke-width="1.0" stroke-linecap="butt"/>
<line x1="291.00" y1="299.50" x2="296.00" y2="299.50" stroke="#111" stroke-width="1.0" stroke-linecap="butt"/>
<rect x="288.50" y="300.50" width="10.00" height="7.80" fill="#d6d6d6" stroke="#1a1a1a" stroke-width="1.0"/>
<line x1="307.50" y1="302.50" x2="307.50" y2="304.00" stroke="#111" stroke-width="1.0" stroke-linecap="butt"/>
<line x1="305.00" y1="302.50" x2="310.00" y2="302.50" stroke="#111" stroke-width="1.0" stroke-linecap="butt"/>
<rect x="302.50" y="304.50" width="10.00" height="3.80" fill="#d6d6d6" stroke="#1a1a1a" stroke-width="1.0"/>
<line x1="327.50" y1="299.50" x2="327.50" y2="300.00" stroke="#111" stroke-width="1.0" stroke-linecap="butt"/>
<line x1="325.00" y1="299.50" x2="330.00" y2="299.50" stroke="#111" stroke-width="1.0" stroke-linecap="butt"/>
<rect x="321.50" y="300.50" width="11.00" height="7.80" fill="#8cbcf8" stroke="#1a1a1a" stroke-width="1.0"/>
<line x1="341.50" y1="260.50" x2="341.50" y2="261.00" stroke="#111" stroke-width="1.0" stroke-linecap="butt"/>
<line x1="339.00" y1="260.50" x2="344.00" y2="260.50" stroke="#111" stroke-width="1.0" stroke-linecap="butt"/>
<rect x="336.50" y="261.50" width="10.00" height="46.80" fill="#8cbcf8" stroke="#1a1a1a" stroke-width="1.0"/>
<rect x="284.15" y="242.00" width="66.30" height="66.30" fill="none" stroke="#000" stroke-width="1.75"/>
<line x1="281.15" y1="242.00" x2="284.15" y2="242.00" stroke="#000" stroke-width="1.75" stroke-linecap="butt"/>
<line x1="281.15" y1="264.10" x2="284.15" y2="264.10" stroke="#000" stroke-width="1.75" stroke-linecap="butt"/>
<line x1="281.15" y1="286.20" x2="284.15" y2="286.20" stroke="#000" stroke-width="1.75" stroke-linecap="butt"/>
<line x1="281.15" y1="308.30" x2="284.15" y2="308.30" stroke="#000" stroke-width="1.75" stroke-linecap="butt"/>
<line x1="293.80" y1="308.30" x2="293.80" y2="311.10" stroke="#000" stroke-width="1.5" stroke-linecap="butt"/>
<line x1="307.75" y1="308.30" x2="307.75" y2="311.10" stroke="#000" stroke-width="1.5" stroke-linecap="butt"/>
<line x1="327.00" y1="308.30" x2="327.00" y2="311.10" stroke="#000" stroke-width="1.5" stroke-linecap="butt"/>
<line x1="341.15" y1="308.30" x2="341.15" y2="311.10" stroke="#000" stroke-width="1.5" stroke-linecap="butt"/>
<line x1="373.50" y1="300.50" x2="373.50" y2="301.00" stroke="#111" stroke-width="1.0" stroke-linecap="butt"/>
<line x1="371.00" y1="300.50" x2="376.00" y2="300.50" stroke="#111" stroke-width="1.0" stroke-linecap="butt"/>
<rect x="368.50" y="301.50" width="10.00" height="6.80" fill="#d6d6d6" stroke="#1a1a1a" stroke-width="1.0"/>
<line x1="387.50" y1="293.50" x2="387.50" y2="296.00" stroke="#111" stroke-width="1.0" stroke-linecap="butt"/>
<line x1="385.00" y1="293.50" x2="390.00" y2="293.50" stroke="#111" stroke-width="1.0" stroke-linecap="butt"/>
<rect x="382.50" y="296.50" width="10.00" height="11.80" fill="#d6d6d6" stroke="#1a1a1a" stroke-width="1.0"/>
<line x1="407.50" y1="299.50" x2="407.50" y2="300.00" stroke="#111" stroke-width="1.0" stroke-linecap="butt"/>
<line x1="405.00" y1="299.50" x2="410.00" y2="299.50" stroke="#111" stroke-width="1.0" stroke-linecap="butt"/>
<rect x="401.50" y="300.50" width="11.00" height="7.80" fill="#8cbcf8" stroke="#1a1a1a" stroke-width="1.0"/>
<line x1="421.50" y1="249.50" x2="421.50" y2="250.00" stroke="#111" stroke-width="1.0" stroke-linecap="butt"/>
<line x1="419.00" y1="249.50" x2="424.00" y2="249.50" stroke="#111" stroke-width="1.0" stroke-linecap="butt"/>
<rect x="416.50" y="250.50" width="10.00" height="57.80" fill="#8cbcf8" stroke="#1a1a1a" stroke-width="1.0"/>
<rect x="364.15" y="242.00" width="66.30" height="66.30" fill="none" stroke="#000" stroke-width="1.75"/>
<line x1="361.15" y1="242.00" x2="364.15" y2="242.00" stroke="#000" stroke-width="1.75" stroke-linecap="butt"/>
<line x1="361.15" y1="264.10" x2="364.15" y2="264.10" stroke="#000" stroke-width="1.75" stroke-linecap="butt"/>
<line x1="361.15" y1="286.20" x2="364.15" y2="286.20" stroke="#000" stroke-width="1.75" stroke-linecap="butt"/>
<line x1="361.15" y1="308.30" x2="364.15" y2="308.30" stroke="#000" stroke-width="1.75" stroke-linecap="butt"/>
<line x1="373.80" y1="308.30" x2="373.80" y2="311.10" stroke="#000" stroke-width="1.5" stroke-linecap="butt"/>
<line x1="387.75" y1="308.30" x2="387.75" y2="311.10" stroke="#000" stroke-width="1.5" stroke-linecap="butt"/>
<line x1="407.00" y1="308.30" x2="407.00" y2="311.10" stroke="#000" stroke-width="1.5" stroke-linecap="butt"/>
<line x1="421.15" y1="308.30" x2="421.15" y2="311.10" stroke="#000" stroke-width="1.5" stroke-linecap="butt"/>
<line x1="453.50" y1="300.50" x2="453.50" y2="303.00" stroke="#111" stroke-width="1.0" stroke-linecap="butt"/>
<line x1="451.00" y1="300.50" x2="456.00" y2="300.50" stroke="#111" stroke-width="1.0" stroke-linecap="butt"/>
<rect x="448.50" y="303.50" width="10.00" height="4.80" fill="#d6d6d6" stroke="#1a1a1a" stroke-width="1.0"/>
<line x1="467.50" y1="298.50" x2="467.50" y2="299.00" stroke="#111" stroke-width="1.0" stroke-linecap="butt"/>
<line x1="465.00" y1="298.50" x2="470.00" y2="298.50" stroke="#111" stroke-width="1.0" stroke-linecap="butt"/>
<rect x="462.50" y="299.50" width="10.00" height="8.80" fill="#d6d6d6" stroke="#1a1a1a" stroke-width="1.0"/>
<line x1="487.50" y1="298.50" x2="487.50" y2="299.00" stroke="#111" stroke-width="1.0" stroke-linecap="butt"/>
<line x1="485.00" y1="298.50" x2="490.00" y2="298.50" stroke="#111" stroke-width="1.0" stroke-linecap="butt"/>
<rect x="481.50" y="299.50" width="11.00" height="8.80" fill="#8cbcf8" stroke="#1a1a1a" stroke-width="1.0"/>
<line x1="501.50" y1="256.50" x2="501.50" y2="259.00" stroke="#111" stroke-width="1.0" stroke-linecap="butt"/>
<line x1="499.00" y1="256.50" x2="504.00" y2="256.50" stroke="#111" stroke-width="1.0" stroke-linecap="butt"/>
<rect x="496.50" y="259.50" width="10.00" height="48.80" fill="#8cbcf8" stroke="#1a1a1a" stroke-width="1.0"/>
<rect x="444.15" y="242.00" width="66.30" height="66.30" fill="none" stroke="#000" stroke-width="1.75"/>
<line x1="441.15" y1="242.00" x2="444.15" y2="242.00" stroke="#000" stroke-width="1.75" stroke-linecap="butt"/>
<line x1="441.15" y1="264.10" x2="444.15" y2="264.10" stroke="#000" stroke-width="1.75" stroke-linecap="butt"/>
<line x1="441.15" y1="286.20" x2="444.15" y2="286.20" stroke="#000" stroke-width="1.75" stroke-linecap="butt"/>
<line x1="441.15" y1="308.30" x2="444.15" y2="308.30" stroke="#000" stroke-width="1.75" stroke-linecap="butt"/>
<line x1="453.80" y1="308.30" x2="453.80" y2="311.10" stroke="#000" stroke-width="1.5" stroke-linecap="butt"/>
<line x1="467.75" y1="308.30" x2="467.75" y2="311.10" stroke="#000" stroke-width="1.5" stroke-linecap="butt"/>
<line x1="487.00" y1="308.30" x2="487.00" y2="311.10" stroke="#000" stroke-width="1.5" stroke-linecap="butt"/>
<line x1="501.15" y1="308.30" x2="501.15" y2="311.10" stroke="#000" stroke-width="1.5" stroke-linecap="butt"/>
<text transform="translate(42.60 312.20) scale(1.0 1.04)" font-size="9.4" text-anchor="end" fill="#111" stroke="#111" stroke-width="0.18">0</text>
<text transform="translate(42.60 290.10) scale(1.0 1.04)" font-size="9.4" text-anchor="end" fill="#111" stroke="#111" stroke-width="0.18">0.2</text>
<text transform="translate(42.60 268.00) scale(1.0 1.04)" font-size="9.4" text-anchor="end" fill="#111" stroke="#111" stroke-width="0.18">0.4</text>
<text transform="translate(42.60 245.90) scale(1.0 1.04)" font-size="9.4" text-anchor="end" fill="#111" stroke="#111" stroke-width="0.18">0.6</text>
<text transform="translate(21.60 273.70) rotate(-90) scale(1.0 0.97)" font-size="9.7" font-weight="bold" text-anchor="middle" fill="#111" stroke="#111" stroke-width="0.2">IL8 (ng/ml)</text>
<line x1="56.50" y1="376.50" x2="56.50" y2="378.00" stroke="#111" stroke-width="1.0" stroke-linecap="butt"/>
<line x1="54.00" y1="376.50" x2="59.00" y2="376.50" stroke="#111" stroke-width="1.0" stroke-linecap="butt"/>
<rect x="51.50" y="378.50" width="10.00" height="14.10" fill="#d6d6d6" stroke="#1a1a1a" stroke-width="1.0"/>
<line x1="70.50" y1="377.50" x2="70.50" y2="378.00" stroke="#111" stroke-width="1.0" stroke-linecap="butt"/>
<line x1="68.00" y1="377.50" x2="73.00" y2="377.50" stroke="#111" stroke-width="1.0" stroke-linecap="butt"/>
<rect x="65.50" y="378.50" width="10.00" height="14.10" fill="#d6d6d6" stroke="#1a1a1a" stroke-width="1.0"/>
<line x1="89.50" y1="379.50" x2="89.50" y2="380.00" stroke="#111" stroke-width="1.0" stroke-linecap="butt"/>
<line x1="87.00" y1="379.50" x2="92.00" y2="379.50" stroke="#111" stroke-width="1.0" stroke-linecap="butt"/>
<rect x="84.50" y="380.50" width="10.00" height="12.10" fill="#8cbcf8" stroke="#1a1a1a" stroke-width="1.0"/>
<line x1="103.50" y1="342.50" x2="103.50" y2="344.00" stroke="#111" stroke-width="1.0" stroke-linecap="butt"/>
<line x1="101.00" y1="342.50" x2="106.00" y2="342.50" stroke="#111" stroke-width="1.0" stroke-linecap="butt"/>
<rect x="98.50" y="344.50" width="10.00" height="48.10" fill="#8cbcf8" stroke="#1a1a1a" stroke-width="1.0"/>
<rect x="46.55" y="326.10" width="66.30" height="66.50" fill="none" stroke="#000" stroke-width="1.75"/>
<line x1="43.55" y1="326.10" x2="46.55" y2="326.10" stroke="#000" stroke-width="1.75" stroke-linecap="butt"/>
<line x1="43.55" y1="342.73" x2="46.55" y2="342.73" stroke="#000" stroke-width="1.75" stroke-linecap="butt"/>
<line x1="43.55" y1="359.35" x2="46.55" y2="359.35" stroke="#000" stroke-width="1.75" stroke-linecap="butt"/>
<line x1="43.55" y1="375.98" x2="46.55" y2="375.98" stroke="#000" stroke-width="1.75" stroke-linecap="butt"/>
<line x1="43.55" y1="392.60" x2="46.55" y2="392.60" stroke="#000" stroke-width="1.75" stroke-linecap="butt"/>
<line x1="56.20" y1="392.60" x2="56.20" y2="395.40" stroke="#000" stroke-width="1.5" stroke-linecap="butt"/>
<line x1="70.15" y1="392.60" x2="70.15" y2="395.40" stroke="#000" stroke-width="1.5" stroke-linecap="butt"/>
<line x1="89.40" y1="392.60" x2="89.40" y2="395.40" stroke="#000" stroke-width="1.5" stroke-linecap="butt"/>
<line x1="103.55" y1="392.60" x2="103.55" y2="395.40" stroke="#000" stroke-width="1.5" stroke-linecap="butt"/>
<line x1="136.50" y1="376.50" x2="136.50" y2="377.00" stroke="#111" stroke-width="1.0" stroke-linecap="butt"/>
<line x1="134.00" y1="376.50" x2="139.00" y2="376.50" stroke="#111" stroke-width="1.0" stroke-linecap="butt"/>
<rect x="131.50" y="377.50" width="10.00" height="15.10" fill="#d6d6d6" stroke="#1a1a1a" stroke-width="1.0"/>
<line x1="150.50" y1="376.50" x2="150.50" y2="377.00" stroke="#111" stroke-width="1.0" stroke-linecap="butt"/>
<line x1="148.00" y1="376.50" x2="153.00" y2="376.50" stroke="#111" stroke-width="1.0" stroke-linecap="butt"/>
<rect x="145.50" y="377.50" width="10.00" height="15.10" fill="#d6d6d6" stroke="#1a1a1a" stroke-width="1.0"/>
<line x1="169.50" y1="380.50" x2="169.50" y2="381.00" stroke="#111" stroke-width="1.0" stroke-linecap="butt"/>
<line x1="167.00" y1="380.50" x2="172.00" y2="380.50" stroke="#111" stroke-width="1.0" stroke-linecap="butt"/>
<rect x="164.50" y="381.50" width="10.00" height="11.10" fill="#8cbcf8" stroke="#1a1a1a" stroke-width="1.0"/>
<line x1="184.50" y1="346.50" x2="184.50" y2="347.00" stroke="#111" stroke-width="1.0" stroke-linecap="butt"/>
<line x1="182.00" y1="346.50" x2="187.00" y2="346.50" stroke="#111" stroke-width="1.0" stroke-linecap="butt"/>
<rect x="178.50" y="347.50" width="11.00" height="45.10" fill="#8cbcf8" stroke="#1a1a1a" stroke-width="1.0"/>
<rect x="127.00" y="326.10" width="66.30" height="66.50" fill="none" stroke="#000" stroke-width="1.75"/>
<line x1="124.00" y1="326.10" x2="127.00" y2="326.10" stroke="#000" stroke-width="1.75" stroke-linecap="butt"/>
<line x1="124.00" y1="342.73" x2="127.00" y2="342.73" stroke="#000" stroke-width="1.75" stroke-linecap="butt"/>
<line x1="124.00" y1="359.35" x2="127.00" y2="359.35" stroke="#000" stroke-width="1.75" stroke-linecap="butt"/>
<line x1="124.00" y1="375.98" x2="127.00" y2="375.98" stroke="#000" stroke-width="1.75" stroke-linecap="butt"/>
<line x1="124.00" y1="392.60" x2="127.00" y2="392.60" stroke="#000" stroke-width="1.75" stroke-linecap="butt"/>
<line x1="136.65" y1="392.60" x2="136.65" y2="395.40" stroke="#000" stroke-width="1.5" stroke-linecap="butt"/>
<line x1="150.60" y1="392.60" x2="150.60" y2="395.40" stroke="#000" stroke-width="1.5" stroke-linecap="butt"/>
<line x1="169.85" y1="392.60" x2="169.85" y2="395.40" stroke="#000" stroke-width="1.5" stroke-linecap="butt"/>
<line x1="184.00" y1="392.60" x2="184.00" y2="395.40" stroke="#000" stroke-width="1.5" stroke-linecap="butt"/>
<line x1="214.50" y1="376.50" x2="214.50" y2="377.00" stroke="#111" stroke-width="1.0" stroke-linecap="butt"/>
<line x1="212.00" y1="376.50" x2="217.00" y2="376.50" stroke="#111" stroke-width="1.0" stroke-linecap="butt"/>
<rect x="209.50" y="377.50" width="10.00" height="15.10" fill="#d6d6d6" stroke="#1a1a1a" stroke-width="1.0"/>
<line x1="228.50" y1="378.50" x2="228.50" y2="379.00" stroke="#111" stroke-width="1.0" stroke-linecap="butt"/>
<line x1="226.00" y1="378.50" x2="231.00" y2="378.50" stroke="#111" stroke-width="1.0" stroke-linecap="butt"/>
<rect x="223.50" y="379.50" width="10.00" height="13.10" fill="#d6d6d6" stroke="#1a1a1a" stroke-width="1.0"/>
<line x1="248.50" y1="378.50" x2="248.50" y2="380.00" stroke="#111" stroke-width="1.0" stroke-linecap="butt"/>
<line x1="246.00" y1="378.50" x2="251.00" y2="378.50" stroke="#111" stroke-width="1.0" stroke-linecap="butt"/>
<rect x="242.50" y="380.50" width="11.00" height="12.10" fill="#8cbcf8" stroke="#1a1a1a" stroke-width="1.0"/>
<line x1="262.50" y1="363.50" x2="262.50" y2="364.00" stroke="#111" stroke-width="1.0" stroke-linecap="butt"/>
<line x1="260.00" y1="363.50" x2="265.00" y2="363.50" stroke="#111" stroke-width="1.0" stroke-linecap="butt"/>
<rect x="257.50" y="364.50" width="10.00" height="28.10" fill="#8cbcf8" stroke="#1a1a1a" stroke-width="1.0"/>
<rect x="205.25" y="326.10" width="66.30" height="66.50" fill="none" stroke="#000" stroke-width="1.75"/>
<line x1="202.25" y1="326.10" x2="205.25" y2="326.10" stroke="#000" stroke-width="1.75" stroke-linecap="butt"/>
<line x1="202.25" y1="342.73" x2="205.25" y2="342.73" stroke="#000" stroke-width="1.75" stroke-linecap="butt"/>
<line x1="202.25" y1="359.35" x2="205.25" y2="359.35" stroke="#000" stroke-width="1.75" stroke-linecap="butt"/>
<line x1="202.25" y1="375.98" x2="205.25" y2="375.98" stroke="#000" stroke-width="1.75" stroke-linecap="butt"/>
<line x1="202.25" y1="392.60" x2="205.25" y2="392.60" stroke="#000" stroke-width="1.75" stroke-linecap="butt"/>
<line x1="214.90" y1="392.60" x2="214.90" y2="395.40" stroke="#000" stroke-width="1.5" stroke-linecap="butt"/>
<line x1="228.85" y1="392.60" x2="228.85" y2="395.40" stroke="#000" stroke-width="1.5" stroke-linecap="butt"/>
<line x1="248.10" y1="392.60" x2="248.10" y2="395.40" stroke="#000" stroke-width="1.5" stroke-linecap="butt"/>
<line x1="262.25" y1="392.60" x2="262.25" y2="395.40" stroke="#000" stroke-width="1.5" stroke-linecap="butt"/>
<line x1="293.50" y1="376.50" x2="293.50" y2="377.00" stroke="#111" stroke-width="1.0" stroke-linecap="butt"/>
<line x1="291.00" y1="376.50" x2="296.00" y2="376.50" stroke="#111" stroke-width="1.0" stroke-linecap="butt"/>
<rect x="288.50" y="377.50" width="10.00" height="15.10" fill="#d6d6d6" stroke="#1a1a1a" stroke-width="1.0"/>
<line x1="307.50" y1="377.50" x2="307.50" y2="378.00" stroke="#111" stroke-width="1.0" stroke-linecap="butt"/>
<line x1="305.00" y1="377.50" x2="310.00" y2="377.50" stroke="#111" stroke-width="1.0" stroke-linecap="butt"/>
<rect x="302.50" y="378.50" width="10.00" height="14.10" fill="#d6d6d6" stroke="#1a1a1a" stroke-width="1.0"/>
<line x1="327.50" y1="378.50" x2="327.50" y2="379.00" stroke="#111" stroke-width="1.0" stroke-linecap="butt"/>
<line x1="325.00" y1="378.50" x2="330.00" y2="378.50" stroke="#111" stroke-width="1.0" stroke-linecap="butt"/>
<rect x="321.50" y="379.50" width="11.00" height="13.10" fill="#8cbcf8" stroke="#1a1a1a" stroke-width="1.0"/>
<line x1="341.50" y1="345.50" x2="341.50" y2="346.00" stroke="#111" stroke-width="1.0" stroke-linecap="butt"/>
<line x1="339.00" y1="345.50" x2="344.00" y2="345.50" stroke="#111" stroke-width="1.0" stroke-linecap="butt"/>
<rect x="336.50" y="346.50" width="10.00" height="46.10" fill="#8cbcf8" stroke="#1a1a1a" stroke-width="1.0"/>
<rect x="284.15" y="326.10" width="66.30" height="66.50" fill="none" stroke="#000" stroke-width="1.75"/>
<line x1="281.15" y1="326.10" x2="284.15" y2="326.10" stroke="#000" stroke-width="1.75" stroke-linecap="butt"/>
<line x1="281.15" y1="342.73" x2="284.15" y2="342.73" stroke="#000" stroke-width="1.75" stroke-linecap="butt"/>
<line x1="281.15" y1="359.35" x2="284.15" y2="359.35" stroke="#000" stroke-width="1.75" stroke-linecap="butt"/>
<line x1="281.15" y1="375.98" x2="284.15" y2="375.98" stroke="#000" stroke-width="1.75" stroke-linecap="butt"/>
<line x1="281.15" y1="392.60" x2="284.15" y2="392.60" stroke="#000" stroke-width="1.75" stroke-linecap="butt"/>
<line x1="293.80" y1="392.60" x2="293.80" y2="395.40" stroke="#000" stroke-width="1.5" stroke-linecap="butt"/>
<line x1="307.75" y1="392.60" x2="307.75" y2="395.40" stroke="#000" stroke-width="1.5" stroke-linecap="butt"/>
<line x1="327.00" y1="392.60" x2="327.00" y2="395.40" stroke="#000" stroke-width="1.5" stroke-linecap="butt"/>
<line x1="341.15" y1="392.60" x2="341.15" y2="395.40" stroke="#000" stroke-width="1.5" stroke-linecap="butt"/>
<line x1="373.50" y1="375.50" x2="373.50" y2="376.00" stroke="#111" stroke-width="1.0" stroke-linecap="butt"/>
<line x1="371.00" y1="375.50" x2="376.00" y2="375.50" stroke="#111" stroke-width="1.0" stroke-linecap="butt"/>
<rect x="368.50" y="376.50" width="10.00" height="16.10" fill="#d6d6d6" stroke="#1a1a1a" stroke-width="1.0"/>
<line x1="387.50" y1="378.50" x2="387.50" y2="379.00" stroke="#111" stroke-width="1.0" stroke-linecap="butt"/>
<line x1="385.00" y1="378.50" x2="390.00" y2="378.50" stroke="#111" stroke-width="1.0" stroke-linecap="butt"/>
<rect x="382.50" y="379.50" width="10.00" height="13.10" fill="#d6d6d6" stroke="#1a1a1a" stroke-width="1.0"/>
<line x1="407.50" y1="376.50" x2="407.50" y2="378.00" stroke="#111" stroke-width="1.0" stroke-linecap="butt"/>
<line x1="405.00" y1="376.50" x2="410.00" y2="376.50" stroke="#111" stroke-width="1.0" stroke-linecap="butt"/>
<rect x="401.50" y="378.50" width="11.00" height="14.10" fill="#8cbcf8" stroke="#1a1a1a" stroke-width="1.0"/>
<line x1="421.50" y1="347.50" x2="421.50" y2="348.00" stroke="#111" stroke-width="1.0" stroke-linecap="butt"/>
<line x1="419.00" y1="347.50" x2="424.00" y2="347.50" stroke="#111" stroke-width="1.0" stroke-linecap="butt"/>
<rect x="416.50" y="348.50" width="10.00" height="44.10" fill="#8cbcf8" stroke="#1a1a1a" stroke-width="1.0"/>
<rect x="364.15" y="326.10" width="66.30" height="66.50" fill="none" stroke="#000" stroke-width="1.75"/>
<line x1="361.15" y1="326.10" x2="364.15" y2="326.10" stroke="#000" stroke-width="1.75" stroke-linecap="butt"/>
<line x1="361.15" y1="342.73" x2="364.15" y2="342.73" stroke="#000" stroke-width="1.75" stroke-linecap="butt"/>
<line x1="361.15" y1="359.35" x2="364.15" y2="359.35" stroke="#000" stroke-width="1.75" stroke-linecap="butt"/>
<line x1="361.15" y1="375.98" x2="364.15" y2="375.98" stroke="#000" stroke-width="1.75" stroke-linecap="butt"/>
<line x1="361.15" y1="392.60" x2="364.15" y2="392.60" stroke="#000" stroke-width="1.75" stroke-linecap="butt"/>
<line x1="373.80" y1="392.60" x2="373.80" y2="395.40" stroke="#000" stroke-width="1.5" stroke-linecap="butt"/>
<line x1="387.75" y1="392.60" x2="387.75" y2="395.40" stroke="#000" stroke-width="1.5" stroke-linecap="butt"/>
<line x1="407.00" y1="392.60" x2="407.00" y2="395.40" stroke="#000" stroke-width="1.5" stroke-linecap="butt"/>
<line x1="421.15" y1="392.60" x2="421.15" y2="395.40" stroke="#000" stroke-width="1.5" stroke-linecap="butt"/>
<line x1="453.50" y1="376.50" x2="453.50" y2="377.00" stroke="#111" stroke-width="1.0" stroke-linecap="butt"/>
<line x1="451.00" y1="376.50" x2="456.00" y2="376.50" stroke="#111" stroke-width="1.0" stroke-linecap="butt"/>
<rect x="448.50" y="377.50" width="10.00" height="15.10" fill="#d6d6d6" stroke="#1a1a1a" stroke-width="1.0"/>
<line x1="467.50" y1="378.50" x2="467.50" y2="379.00" stroke="#111" stroke-width="1.0" stroke-linecap="butt"/>
<line x1="465.00" y1="378.50" x2="470.00" y2="378.50" stroke="#111" stroke-width="1.0" stroke-linecap="butt"/>
<rect x="462.50" y="379.50" width="10.00" height="13.10" fill="#d6d6d6" stroke="#1a1a1a" stroke-width="1.0"/>
<line x1="487.50" y1="377.50" x2="487.50" y2="378.00" stroke="#111" stroke-width="1.0" stroke-linecap="butt"/>
<line x1="485.00" y1="377.50" x2="490.00" y2="377.50" stroke="#111" stroke-width="1.0" stroke-linecap="butt"/>
<rect x="481.50" y="378.50" width="11.00" height="14.10" fill="#8cbcf8" stroke="#1a1a1a" stroke-width="1.0"/>
<line x1="501.50" y1="349.50" x2="501.50" y2="350.00" stroke="#111" stroke-width="1.0" stroke-linecap="butt"/>
<line x1="499.00" y1="349.50" x2="504.00" y2="349.50" stroke="#111" stroke-width="1.0" stroke-linecap="butt"/>
<rect x="496.50" y="350.50" width="10.00" height="42.10" fill="#8cbcf8" stroke="#1a1a1a" stroke-width="1.0"/>
<rect x="444.15" y="326.10" width="66.30" height="66.50" fill="none" stroke="#000" stroke-width="1.75"/>
<line x1="441.15" y1="326.10" x2="444.15" y2="326.10" stroke="#000" stroke-width="1.75" stroke-linecap="butt"/>
<line x1="441.15" y1="342.73" x2="444.15" y2="342.73" stroke="#000" stroke-width="1.75" stroke-linecap="butt"/>
<line x1="441.15" y1="359.35" x2="444.15" y2="359.35" stroke="#000" stroke-width="1.75" stroke-linecap="butt"/>
<line x1="441.15" y1="375.98" x2="444.15" y2="375.98" stroke="#000" stroke-width="1.75" stroke-linecap="butt"/>
<line x1="441.15" y1="392.60" x2="444.15" y2="392.60" stroke="#000" stroke-width="1.75" stroke-linecap="butt"/>
<line x1="453.80" y1="392.60" x2="453.80" y2="395.40" stroke="#000" stroke-width="1.5" stroke-linecap="butt"/>
<line x1="467.75" y1="392.60" x2="467.75" y2="395.40" stroke="#000" stroke-width="1.5" stroke-linecap="butt"/>
<line x1="487.00" y1="392.60" x2="487.00" y2="395.40" stroke="#000" stroke-width="1.5" stroke-linecap="butt"/>
<line x1="501.15" y1="392.60" x2="501.15" y2="395.40" stroke="#000" stroke-width="1.5" stroke-linecap="butt"/>
<text transform="translate(42.60 396.50) scale(1.0 1.04)" font-size="9.4" text-anchor="end" fill="#111" stroke="#111" stroke-width="0.18">0</text>
<text transform="translate(42.60 379.88) scale(1.0 1.04)" font-size="9.4" text-anchor="end" fill="#111" stroke="#111" stroke-width="0.18">0.5</text>
<text transform="translate(42.60 363.25) scale(1.0 1.04)" font-size="9.4" text-anchor="end" fill="#111" stroke="#111" stroke-width="0.18">1.0</text>
<text transform="translate(42.60 346.62) scale(1.0 1.04)" font-size="9.4" text-anchor="end" fill="#111" stroke="#111" stroke-width="0.18">1.5</text>
<text transform="translate(42.60 330.00) scale(1.0 1.04)" font-size="9.4" text-anchor="end" fill="#111" stroke="#111" stroke-width="0.18">2.0</text>
<text transform="translate(21.60 362.00) rotate(-90) scale(1.0 0.97)" font-size="9.7" font-weight="bold" text-anchor="middle" fill="#111" stroke="#111" stroke-width="0.2">IL8 (ng/ml)</text>
<text transform="translate(80.00 234.00) scale(1.0 1.04)" font-size="9.6" font-weight="bold" text-anchor="middle" fill="#111" stroke="#111" stroke-width="0.2">IgG1</text>
<text transform="translate(160.45 234.00) scale(1.0 1.04)" font-size="9.6" font-weight="bold" text-anchor="middle" fill="#111" stroke="#111" stroke-width="0.2">IgG2</text>
<text transform="translate(238.70 234.00) scale(1.0 1.04)" font-size="9.6" font-weight="bold" text-anchor="middle" fill="#111" stroke="#111" stroke-width="0.2">IgG3</text>
<text transform="translate(317.60 234.00) scale(1.0 1.04)" font-size="9.6" font-weight="bold" text-anchor="middle" fill="#111" stroke="#111" stroke-width="0.2">IgG4</text>
<text transform="translate(397.60 234.00) scale(1.0 1.04)" font-size="9.6" font-weight="bold" text-anchor="middle" fill="#111" stroke="#111" stroke-width="0.2">mIgG1</text>
<text transform="translate(477.60 234.00) scale(1.0 1.04)" font-size="9.6" font-weight="bold" text-anchor="middle" fill="#111" stroke="#111" stroke-width="0.2">mIgG2A</text>
<text transform="translate(56.60 406.80) scale(1.0 1.04)" font-size="9.0" font-weight="bold" text-anchor="middle" fill="#111" stroke="#111" stroke-width="0.35">-</text>
<text transform="translate(70.55 406.80) scale(1.0 1.04)" font-size="9.0" font-weight="bold" text-anchor="middle" fill="#111" stroke="#111" stroke-width="0.35">+</text>
<text transform="translate(89.80 406.80) scale(1.0 1.04)" font-size="9.0" font-weight="bold" text-anchor="middle" fill="#111" stroke="#111" stroke-width="0.35">-</text>
<text transform="translate(103.95 406.80) scale(1.0 1.04)" font-size="9.0" font-weight="bold" text-anchor="middle" fill="#111" stroke="#111" stroke-width="0.35">+</text>
<path d="M48.75 407.40 V409.70 H77.75 V407.40" fill="none" stroke="#000" stroke-width="1.6"/>
<path d="M81.15 407.40 V409.70 H111.15 V407.40" fill="none" stroke="#000" stroke-width="1.6"/>
<text transform="translate(63.15 419.90) scale(1.08 1.04)" font-size="8.9" text-anchor="middle" fill="#111" stroke="#111" stroke-width="0.18">EV</text>
<text transform="translate(96.75 419.90) scale(1.08 1.04)" font-size="8.9" text-anchor="middle" fill="#111" stroke="#111" stroke-width="0.18">Fc&#947;R2B</text>
<text transform="translate(137.05 406.80) scale(1.0 1.04)" font-size="9.0" font-weight="bold" text-anchor="middle" fill="#111" stroke="#111" stroke-width="0.35">-</text>
<text transform="translate(151.00 406.80) scale(1.0 1.04)" font-size="9.0" font-weight="bold" text-anchor="middle" fill="#111" stroke="#111" stroke-width="0.35">+</text>
<text transform="translate(170.25 406.80) scale(1.0 1.04)" font-size="9.0" font-weight="bold" text-anchor="middle" fill="#111" stroke="#111" stroke-width="0.35">-</text>
<text transform="translate(184.40 406.80) scale(1.0 1.04)" font-size="9.0" font-weight="bold" text-anchor="middle" fill="#111" stroke="#111" stroke-width="0.35">+</text>
<path d="M129.20 407.40 V409.70 H158.20 V407.40" fill="none" stroke="#000" stroke-width="1.6"/>
<path d="M161.60 407.40 V409.70 H191.60 V407.40" fill="none" stroke="#000" stroke-width="1.6"/>
<text transform="translate(143.60 419.90) scale(1.08 1.04)" font-size="8.9" text-anchor="middle" fill="#111" stroke="#111" stroke-width="0.18">EV</text>
<text transform="translate(177.20 419.90) scale(1.08 1.04)" font-size="8.9" text-anchor="middle" fill="#111" stroke="#111" stroke-width="0.18">Fc&#947;R2B</text>
<text transform="translate(215.30 406.80) scale(1.0 1.04)" font-size="9.0" font-weight="bold" text-anchor="middle" fill="#111" stroke="#111" stroke-width="0.35">-</text>
<text transform="translate(229.25 406.80) scale(1.0 1.04)" font-size="9.0" font-weight="bold" text-anchor="middle" fill="#111" stroke="#111" stroke-width="0.35">+</text>
<text transform="translate(248.50 406.80) scale(1.0 1.04)" font-size="9.0" font-weight="bold" text-anchor="middle" fill="#111" stroke="#111" stroke-width="0.35">-</text>
<text transform="translate(262.65 406.80) scale(1.0 1.04)" font-size="9.0" font-weight="bold" text-anchor="middle" fill="#111" stroke="#111" stroke-width="0.35">+</text>
<path d="M207.45 407.40 V409.70 H236.45 V407.40" fill="none" stroke="#000" stroke-width="1.6"/>
<path d="M239.85 407.40 V409.70 H269.85 V407.40" fill="none" stroke="#000" stroke-width="1.6"/>
<text transform="translate(221.85 419.90) scale(1.08 1.04)" font-size="8.9" text-anchor="middle" fill="#111" stroke="#111" stroke-width="0.18">EV</text>
<text transform="translate(255.45 419.90) scale(1.08 1.04)" font-size="8.9" text-anchor="middle" fill="#111" stroke="#111" stroke-width="0.18">Fc&#947;R2B</text>
<text transform="translate(294.20 406.80) scale(1.0 1.04)" font-size="9.0" font-weight="bold" text-anchor="middle" fill="#111" stroke="#111" stroke-width="0.35">-</text>
<text transform="translate(308.15 406.80) scale(1.0 1.04)" font-size="9.0" font-weight="bold" text-anchor="middle" fill="#111" stroke="#111" stroke-width="0.35">+</text>
<text transform="translate(327.40 406.80) scale(1.0 1.04)" font-size="9.0" font-weight="bold" text-anchor="middle" fill="#111" stroke="#111" stroke-width="0.35">-</text>
<text transform="translate(341.55 406.80) scale(1.0 1.04)" font-size="9.0" font-weight="bold" text-anchor="middle" fill="#111" stroke="#111" stroke-width="0.35">+</text>
<path d="M286.35 407.40 V409.70 H315.35 V407.40" fill="none" stroke="#000" stroke-width="1.6"/>
<path d="M318.75 407.40 V409.70 H348.75 V407.40" fill="none" stroke="#000" stroke-width="1.6"/>
<text transform="translate(300.75 419.90) scale(1.08 1.04)" font-size="8.9" text-anchor="middle" fill="#111" stroke="#111" stroke-width="0.18">EV</text>
<text transform="translate(334.35 419.90) scale(1.08 1.04)" font-size="8.9" text-anchor="middle" fill="#111" stroke="#111" stroke-width="0.18">Fc&#947;R2B</text>
<text transform="translate(374.20 406.80) scale(1.0 1.04)" font-size="9.0" font-weight="bold" text-anchor="middle" fill="#111" stroke="#111" stroke-width="0.35">-</text>
<text transform="translate(388.15 406.80) scale(1.0 1.04)" font-size="9.0" font-weight="bold" text-anchor="middle" fill="#111" stroke="#111" stroke-width="0.35">+</text>
<text transform="translate(407.40 406.80) scale(1.0 1.04)" font-size="9.0" font-weight="bold" text-anchor="middle" fill="#111" stroke="#111" stroke-width="0.35">-</text>
<text transform="translate(421.55 406.80) scale(1.0 1.04)" font-size="9.0" font-weight="bold" text-anchor="middle" fill="#111" stroke="#111" stroke-width="0.35">+</text>
<path d="M366.35 407.40 V409.70 H395.35 V407.40" fill="none" stroke="#000" stroke-width="1.6"/>
<path d="M398.75 407.40 V409.70 H428.75 V407.40" fill="none" stroke="#000" stroke-width="1.6"/>
<text transform="translate(380.75 419.90) scale(1.08 1.04)" font-size="8.9" text-anchor="middle" fill="#111" stroke="#111" stroke-width="0.18">EV</text>
<text transform="translate(414.35 419.90) scale(1.08 1.04)" font-size="8.9" text-anchor="middle" fill="#111" stroke="#111" stroke-width="0.18">Fc&#947;R2B</text>
<text transform="translate(454.20 406.80) scale(1.0 1.04)" font-size="9.0" font-weight="bold" text-anchor="middle" fill="#111" stroke="#111" stroke-width="0.35">-</text>
<text transform="translate(468.15 406.80) scale(1.0 1.04)" font-size="9.0" font-weight="bold" text-anchor="middle" fill="#111" stroke="#111" stroke-width="0.35">+</text>
<text transform="translate(487.40 406.80) scale(1.0 1.04)" font-size="9.0" font-weight="bold" text-anchor="middle" fill="#111" stroke="#111" stroke-width="0.35">-</text>
<text transform="translate(501.55 406.80) scale(1.0 1.04)" font-size="9.0" font-weight="bold" text-anchor="middle" fill="#111" stroke="#111" stroke-width="0.35">+</text>
<path d="M446.35 407.40 V409.70 H475.35 V407.40" fill="none" stroke="#000" stroke-width="1.6"/>
<path d="M478.75 407.40 V409.70 H508.75 V407.40" fill="none" stroke="#000" stroke-width="1.6"/>
<text transform="translate(460.75 419.90) scale(1.08 1.04)" font-size="8.9" text-anchor="middle" fill="#111" stroke="#111" stroke-width="0.18">EV</text>
<text transform="translate(494.35 419.90) scale(1.08 1.04)" font-size="8.9" text-anchor="middle" fill="#111" stroke="#111" stroke-width="0.18">Fc&#947;R2B</text>
<path d="M517.40 242.20 H524.90 V307.90 H517.40" fill="none" stroke="#000" stroke-width="1.7"/>
<path d="M517.40 325.90 H524.90 V391.80 H517.40" fill="none" stroke="#000" stroke-width="1.7"/>
<text transform="translate(532.60 275.70) rotate(90) scale(1.0 1.04)" font-size="9.5" font-weight="bold" text-anchor="middle" fill="#111" stroke="#111" stroke-width="0.2">&#945;TNFR2 (C4)</text>
<text transform="translate(532.60 360.60) rotate(90) scale(1.0 1.04)" font-size="9.6" font-weight="bold" text-anchor="middle" fill="#111" stroke="#111" stroke-width="0.2">&#945;Fn14 (18D1)</text>
<text transform="translate(-0.60 452.10) scale(1.0 1.04)" font-size="19.5" font-weight="bold" fill="#111" stroke="#111" stroke-width="0.45">D</text>
<line x1="51.50" y1="529.50" x2="51.50" y2="530.00" stroke="#111" stroke-width="1.0" stroke-linecap="butt"/>
<line x1="49.80" y1="529.50" x2="53.20" y2="529.50" stroke="#111" stroke-width="1.0" stroke-linecap="butt"/>
<rect x="48.50" y="530.50" width="6.00" height="4.40" fill="#d6d6d6" stroke="#1a1a1a" stroke-width="1.0"/>
<line x1="59.50" y1="530.50" x2="59.50" y2="532.00" stroke="#111" stroke-width="1.0" stroke-linecap="butt"/>
<line x1="57.80" y1="530.50" x2="61.20" y2="530.50" stroke="#111" stroke-width="1.0" stroke-linecap="butt"/>
<rect x="56.50" y="532.50" width="5.00" height="2.40" fill="#d6d6d6" stroke="#1a1a1a" stroke-width="1.0"/>
<line x1="70.50" y1="513.50" x2="70.50" y2="516.00" stroke="#111" stroke-width="1.0" stroke-linecap="butt"/>
<line x1="68.80" y1="513.50" x2="72.20" y2="513.50" stroke="#111" stroke-width="1.0" stroke-linecap="butt"/>
<rect x="67.50" y="516.50" width="5.00" height="18.40" fill="#a3f5a3" stroke="#1a1a1a" stroke-width="1.0"/>
<line x1="77.50" y1="473.50" x2="77.50" y2="474.00" stroke="#111" stroke-width="1.0" stroke-linecap="butt"/>
<line x1="75.80" y1="473.50" x2="79.20" y2="473.50" stroke="#111" stroke-width="1.0" stroke-linecap="butt"/>
<rect x="74.50" y="474.50" width="6.00" height="60.40" fill="#a3f5a3" stroke="#1a1a1a" stroke-width="1.0"/>
<line x1="88.50" y1="525.50" x2="88.50" y2="526.00" stroke="#111" stroke-width="1.0" stroke-linecap="butt"/>
<line x1="86.80" y1="525.50" x2="90.20" y2="525.50" stroke="#111" stroke-width="1.0" stroke-linecap="butt"/>
<rect x="85.50" y="526.50" width="6.00" height="8.40" fill="#ffa3a3" stroke="#1a1a1a" stroke-width="1.0"/>
<line x1="96.50" y1="507.50" x2="96.50" y2="508.00" stroke="#111" stroke-width="1.0" stroke-linecap="butt"/>
<line x1="94.80" y1="507.50" x2="98.20" y2="507.50" stroke="#111" stroke-width="1.0" stroke-linecap="butt"/>
<rect x="93.50" y="508.50" width="5.00" height="26.40" fill="#ffa3a3" stroke="#1a1a1a" stroke-width="1.0"/>
<line x1="106.50" y1="525.50" x2="106.50" y2="527.00" stroke="#111" stroke-width="1.0" stroke-linecap="butt"/>
<line x1="104.80" y1="525.50" x2="108.20" y2="525.50" stroke="#111" stroke-width="1.0" stroke-linecap="butt"/>
<rect x="103.50" y="527.50" width="6.00" height="7.40" fill="#8cbcf8" stroke="#1a1a1a" stroke-width="1.0"/>
<line x1="114.50" y1="489.50" x2="114.50" y2="492.00" stroke="#111" stroke-width="1.0" stroke-linecap="butt"/>
<line x1="112.80" y1="489.50" x2="116.20" y2="489.50" stroke="#111" stroke-width="1.0" stroke-linecap="butt"/>
<rect x="111.50" y="492.50" width="6.00" height="42.40" fill="#8cbcf8" stroke="#1a1a1a" stroke-width="1.0"/>
<line x1="125.50" y1="523.50" x2="125.50" y2="524.00" stroke="#111" stroke-width="1.0" stroke-linecap="butt"/>
<line x1="123.80" y1="523.50" x2="127.20" y2="523.50" stroke="#111" stroke-width="1.0" stroke-linecap="butt"/>
<rect x="122.50" y="524.50" width="5.00" height="10.40" fill="#fff59a" stroke="#1a1a1a" stroke-width="1.0"/>
<line x1="132.50" y1="518.50" x2="132.50" y2="519.00" stroke="#111" stroke-width="1.0" stroke-linecap="butt"/>
<line x1="130.80" y1="518.50" x2="134.20" y2="518.50" stroke="#111" stroke-width="1.0" stroke-linecap="butt"/>
<rect x="129.50" y="519.50" width="6.00" height="15.40" fill="#fff59a" stroke="#1a1a1a" stroke-width="1.0"/>
<line x1="143.50" y1="524.50" x2="143.50" y2="525.00" stroke="#111" stroke-width="1.0" stroke-linecap="butt"/>
<line x1="141.80" y1="524.50" x2="145.20" y2="524.50" stroke="#111" stroke-width="1.0" stroke-linecap="butt"/>
<rect x="140.50" y="525.50" width="6.00" height="9.40" fill="#f0ccfa" stroke="#1a1a1a" stroke-width="1.0"/>
<line x1="151.50" y1="497.50" x2="151.50" y2="498.00" stroke="#111" stroke-width="1.0" stroke-linecap="butt"/>
<line x1="149.80" y1="497.50" x2="153.20" y2="497.50" stroke="#111" stroke-width="1.0" stroke-linecap="butt"/>
<rect x="148.50" y="498.50" width="5.00" height="36.40" fill="#f0ccfa" stroke="#1a1a1a" stroke-width="1.0"/>
<line x1="161.50" y1="524.50" x2="161.50" y2="525.00" stroke="#111" stroke-width="1.0" stroke-linecap="butt"/>
<line x1="159.80" y1="524.50" x2="163.20" y2="524.50" stroke="#111" stroke-width="1.0" stroke-linecap="butt"/>
<rect x="158.50" y="525.50" width="6.00" height="9.40" fill="#ffbf80" stroke="#1a1a1a" stroke-width="1.0"/>
<line x1="169.50" y1="488.50" x2="169.50" y2="490.00" stroke="#111" stroke-width="1.0" stroke-linecap="butt"/>
<line x1="167.80" y1="488.50" x2="171.20" y2="488.50" stroke="#111" stroke-width="1.0" stroke-linecap="butt"/>
<rect x="166.50" y="490.50" width="6.00" height="44.40" fill="#ffbf80" stroke="#1a1a1a" stroke-width="1.0"/>
<line x1="180.50" y1="521.50" x2="180.50" y2="522.00" stroke="#111" stroke-width="1.0" stroke-linecap="butt"/>
<line x1="178.80" y1="521.50" x2="182.20" y2="521.50" stroke="#111" stroke-width="1.0" stroke-linecap="butt"/>
<rect x="177.50" y="522.50" width="5.00" height="12.40" fill="#4f9a96" stroke="#1a1a1a" stroke-width="1.0"/>
<line x1="187.50" y1="515.50" x2="187.50" y2="517.00" stroke="#111" stroke-width="1.0" stroke-linecap="butt"/>
<line x1="185.80" y1="515.50" x2="189.20" y2="515.50" stroke="#111" stroke-width="1.0" stroke-linecap="butt"/>
<rect x="184.50" y="517.50" width="6.00" height="17.40" fill="#4f9a96" stroke="#1a1a1a" stroke-width="1.0"/>
<rect x="46.80" y="452.00" width="146.10" height="82.90" fill="none" stroke="#000" stroke-width="1.75"/>
<line x1="43.80" y1="452.00" x2="46.80" y2="452.00" stroke="#000" stroke-width="1.75" stroke-linecap="butt"/>
<line x1="43.80" y1="472.73" x2="46.80" y2="472.73" stroke="#000" stroke-width="1.75" stroke-linecap="butt"/>
<line x1="43.80" y1="493.45" x2="46.80" y2="493.45" stroke="#000" stroke-width="1.75" stroke-linecap="butt"/>
<line x1="43.80" y1="514.17" x2="46.80" y2="514.17" stroke="#000" stroke-width="1.75" stroke-linecap="butt"/>
<line x1="43.80" y1="534.90" x2="46.80" y2="534.90" stroke="#000" stroke-width="1.75" stroke-linecap="butt"/>
<line x1="51.60" y1="534.90" x2="51.60" y2="537.70" stroke="#000" stroke-width="1.5" stroke-linecap="butt"/>
<line x1="59.20" y1="534.90" x2="59.20" y2="537.70" stroke="#000" stroke-width="1.5" stroke-linecap="butt"/>
<line x1="69.96" y1="534.90" x2="69.96" y2="537.70" stroke="#000" stroke-width="1.5" stroke-linecap="butt"/>
<line x1="77.56" y1="534.90" x2="77.56" y2="537.70" stroke="#000" stroke-width="1.5" stroke-linecap="butt"/>
<line x1="88.32" y1="534.90" x2="88.32" y2="537.70" stroke="#000" stroke-width="1.5" stroke-linecap="butt"/>
<line x1="95.92" y1="534.90" x2="95.92" y2="537.70" stroke="#000" stroke-width="1.5" stroke-linecap="butt"/>
<line x1="106.68" y1="534.90" x2="106.68" y2="537.70" stroke="#000" stroke-width="1.5" stroke-linecap="butt"/>
<line x1="114.28" y1="534.90" x2="114.28" y2="537.70" stroke="#000" stroke-width="1.5" stroke-linecap="butt"/>
<line x1="125.04" y1="534.90" x2="125.04" y2="537.70" stroke="#000" stroke-width="1.5" stroke-linecap="butt"/>
<line x1="132.64" y1="534.90" x2="132.64" y2="537.70" stroke="#000" stroke-width="1.5" stroke-linecap="butt"/>
<line x1="143.40" y1="534.90" x2="143.40" y2="537.70" stroke="#000" stroke-width="1.5" stroke-linecap="butt"/>
<line x1="151.00" y1="534.90" x2="151.00" y2="537.70" stroke="#000" stroke-width="1.5" stroke-linecap="butt"/>
<line x1="161.76" y1="534.90" x2="161.76" y2="537.70" stroke="#000" stroke-width="1.5" stroke-linecap="butt"/>
<line x1="169.36" y1="534.90" x2="169.36" y2="537.70" stroke="#000" stroke-width="1.5" stroke-linecap="butt"/>
<line x1="180.12" y1="534.90" x2="180.12" y2="537.70" stroke="#000" stroke-width="1.5" stroke-linecap="butt"/>
<line x1="187.72" y1="534.90" x2="187.72" y2="537.70" stroke="#000" stroke-width="1.5" stroke-linecap="butt"/>
<text transform="translate(188.00 463.90) scale(1.0 1.04)" font-size="9.5" font-weight="bold" text-anchor="end" fill="#111" stroke="#111" stroke-width="0.2">IgG1</text>
<line x1="210.50" y1="528.50" x2="210.50" y2="529.00" stroke="#111" stroke-width="1.0" stroke-linecap="butt"/>
<line x1="208.80" y1="528.50" x2="212.20" y2="528.50" stroke="#111" stroke-width="1.0" stroke-linecap="butt"/>
<rect x="207.50" y="529.50" width="6.00" height="5.40" fill="#d6d6d6" stroke="#1a1a1a" stroke-width="1.0"/>
<line x1="218.50" y1="532.50" x2="218.50" y2="533.00" stroke="#111" stroke-width="1.0" stroke-linecap="butt"/>
<line x1="216.80" y1="532.50" x2="220.20" y2="532.50" stroke="#111" stroke-width="1.0" stroke-linecap="butt"/>
<rect x="215.50" y="533.50" width="5.00" height="1.40" fill="#d6d6d6" stroke="#1a1a1a" stroke-width="1.0"/>
<line x1="228.50" y1="517.50" x2="228.50" y2="520.00" stroke="#111" stroke-width="1.0" stroke-linecap="butt"/>
<line x1="226.80" y1="517.50" x2="230.20" y2="517.50" stroke="#111" stroke-width="1.0" stroke-linecap="butt"/>
<rect x="225.50" y="520.50" width="6.00" height="14.40" fill="#a3f5a3" stroke="#1a1a1a" stroke-width="1.0"/>
<line x1="236.50" y1="509.50" x2="236.50" y2="514.00" stroke="#111" stroke-width="1.0" stroke-linecap="butt"/>
<line x1="234.80" y1="509.50" x2="238.20" y2="509.50" stroke="#111" stroke-width="1.0" stroke-linecap="butt"/>
<rect x="233.50" y="514.50" width="6.00" height="20.40" fill="#a3f5a3" stroke="#1a1a1a" stroke-width="1.0"/>
<line x1="247.50" y1="524.50" x2="247.50" y2="527.00" stroke="#111" stroke-width="1.0" stroke-linecap="butt"/>
<line x1="245.80" y1="524.50" x2="249.20" y2="524.50" stroke="#111" stroke-width="1.0" stroke-linecap="butt"/>
<rect x="244.50" y="527.50" width="5.00" height="7.40" fill="#ffa3a3" stroke="#1a1a1a" stroke-width="1.0"/>
<line x1="254.50" y1="529.50" x2="254.50" y2="530.00" stroke="#111" stroke-width="1.0" stroke-linecap="butt"/>
<line x1="252.80" y1="529.50" x2="256.20" y2="529.50" stroke="#111" stroke-width="1.0" stroke-linecap="butt"/>
<rect x="251.50" y="530.50" width="6.00" height="4.40" fill="#ffa3a3" stroke="#1a1a1a" stroke-width="1.0"/>
<line x1="265.50" y1="527.50" x2="265.50" y2="528.00" stroke="#111" stroke-width="1.0" stroke-linecap="butt"/>
<line x1="263.80" y1="527.50" x2="267.20" y2="527.50" stroke="#111" stroke-width="1.0" stroke-linecap="butt"/>
<rect x="262.50" y="528.50" width="6.00" height="6.40" fill="#8cbcf8" stroke="#1a1a1a" stroke-width="1.0"/>
<line x1="273.50" y1="527.50" x2="273.50" y2="528.00" stroke="#111" stroke-width="1.0" stroke-linecap="butt"/>
<line x1="271.80" y1="527.50" x2="275.20" y2="527.50" stroke="#111" stroke-width="1.0" stroke-linecap="butt"/>
<rect x="270.50" y="528.50" width="5.00" height="6.40" fill="#8cbcf8" stroke="#1a1a1a" stroke-width="1.0"/>
<line x1="283.50" y1="526.50" x2="283.50" y2="527.00" stroke="#111" stroke-width="1.0" stroke-linecap="butt"/>
<line x1="281.80" y1="526.50" x2="285.20" y2="526.50" stroke="#111" stroke-width="1.0" stroke-linecap="butt"/>
<rect x="280.50" y="527.50" width="6.00" height="7.40" fill="#fff59a" stroke="#1a1a1a" stroke-width="1.0"/>
<line x1="291.50" y1="525.50" x2="291.50" y2="528.00" stroke="#111" stroke-width="1.0" stroke-linecap="butt"/>
<line x1="289.80" y1="525.50" x2="293.20" y2="525.50" stroke="#111" stroke-width="1.0" stroke-linecap="butt"/>
<rect x="288.50" y="528.50" width="6.00" height="6.40" fill="#fff59a" stroke="#1a1a1a" stroke-width="1.0"/>
<line x1="302.50" y1="527.50" x2="302.50" y2="528.00" stroke="#111" stroke-width="1.0" stroke-linecap="butt"/>
<line x1="300.80" y1="527.50" x2="304.20" y2="527.50" stroke="#111" stroke-width="1.0" stroke-linecap="butt"/>
<rect x="299.50" y="528.50" width="5.00" height="6.40" fill="#f0ccfa" stroke="#1a1a1a" stroke-width="1.0"/>
<line x1="309.50" y1="528.50" x2="309.50" y2="529.00" stroke="#111" stroke-width="1.0" stroke-linecap="butt"/>
<line x1="307.80" y1="528.50" x2="311.20" y2="528.50" stroke="#111" stroke-width="1.0" stroke-linecap="butt"/>
<rect x="306.50" y="529.50" width="6.00" height="5.40" fill="#f0ccfa" stroke="#1a1a1a" stroke-width="1.0"/>
<line x1="320.50" y1="526.50" x2="320.50" y2="527.00" stroke="#111" stroke-width="1.0" stroke-linecap="butt"/>
<line x1="318.80" y1="526.50" x2="322.20" y2="526.50" stroke="#111" stroke-width="1.0" stroke-linecap="butt"/>
<rect x="317.50" y="527.50" width="6.00" height="7.40" fill="#ffbf80" stroke="#1a1a1a" stroke-width="1.0"/>
<line x1="328.50" y1="523.50" x2="328.50" y2="527.00" stroke="#111" stroke-width="1.0" stroke-linecap="butt"/>
<line x1="326.80" y1="523.50" x2="330.20" y2="523.50" stroke="#111" stroke-width="1.0" stroke-linecap="butt"/>
<rect x="325.50" y="527.50" width="5.00" height="7.40" fill="#ffbf80" stroke="#1a1a1a" stroke-width="1.0"/>
<line x1="339.50" y1="522.50" x2="339.50" y2="523.00" stroke="#111" stroke-width="1.0" stroke-linecap="butt"/>
<line x1="337.80" y1="522.50" x2="341.20" y2="522.50" stroke="#111" stroke-width="1.0" stroke-linecap="butt"/>
<rect x="336.50" y="523.50" width="5.00" height="11.40" fill="#4f9a96" stroke="#1a1a1a" stroke-width="1.0"/>
<line x1="346.50" y1="519.50" x2="346.50" y2="521.00" stroke="#111" stroke-width="1.0" stroke-linecap="butt"/>
<line x1="344.80" y1="519.50" x2="348.20" y2="519.50" stroke="#111" stroke-width="1.0" stroke-linecap="butt"/>
<rect x="343.50" y="521.50" width="6.00" height="13.40" fill="#4f9a96" stroke="#1a1a1a" stroke-width="1.0"/>
<rect x="205.50" y="452.00" width="146.10" height="82.90" fill="none" stroke="#000" stroke-width="1.75"/>
<line x1="202.50" y1="452.00" x2="205.50" y2="452.00" stroke="#000" stroke-width="1.75" stroke-linecap="butt"/>
<line x1="202.50" y1="472.73" x2="205.50" y2="472.73" stroke="#000" stroke-width="1.75" stroke-linecap="butt"/>
<line x1="202.50" y1="493.45" x2="205.50" y2="493.45" stroke="#000" stroke-width="1.75" stroke-linecap="butt"/>
<line x1="202.50" y1="514.17" x2="205.50" y2="514.17" stroke="#000" stroke-width="1.75" stroke-linecap="butt"/>
<line x1="202.50" y1="534.90" x2="205.50" y2="534.90" stroke="#000" stroke-width="1.75" stroke-linecap="butt"/>
<line x1="210.30" y1="534.90" x2="210.30" y2="537.70" stroke="#000" stroke-width="1.5" stroke-linecap="butt"/>
<line x1="217.90" y1="534.90" x2="217.90" y2="537.70" stroke="#000" stroke-width="1.5" stroke-linecap="butt"/>
<line x1="228.66" y1="534.90" x2="228.66" y2="537.70" stroke="#000" stroke-width="1.5" stroke-linecap="butt"/>
<line x1="236.26" y1="534.90" x2="236.26" y2="537.70" stroke="#000" stroke-width="1.5" stroke-linecap="butt"/>
<line x1="247.02" y1="534.90" x2="247.02" y2="537.70" stroke="#000" stroke-width="1.5" stroke-linecap="butt"/>
<line x1="254.62" y1="534.90" x2="254.62" y2="537.70" stroke="#000" stroke-width="1.5" stroke-linecap="butt"/>
<line x1="265.38" y1="534.90" x2="265.38" y2="537.70" stroke="#000" stroke-width="1.5" stroke-linecap="butt"/>
<line x1="272.98" y1="534.90" x2="272.98" y2="537.70" stroke="#000" stroke-width="1.5" stroke-linecap="butt"/>
<line x1="283.74" y1="534.90" x2="283.74" y2="537.70" stroke="#000" stroke-width="1.5" stroke-linecap="butt"/>
<line x1="291.34" y1="534.90" x2="291.34" y2="537.70" stroke="#000" stroke-width="1.5" stroke-linecap="butt"/>
<line x1="302.10" y1="534.90" x2="302.10" y2="537.70" stroke="#000" stroke-width="1.5" stroke-linecap="butt"/>
<line x1="309.70" y1="534.90" x2="309.70" y2="537.70" stroke="#000" stroke-width="1.5" stroke-linecap="butt"/>
<line x1="320.46" y1="534.90" x2="320.46" y2="537.70" stroke="#000" stroke-width="1.5" stroke-linecap="butt"/>
<line x1="328.06" y1="534.90" x2="328.06" y2="537.70" stroke="#000" stroke-width="1.5" stroke-linecap="butt"/>
<line x1="338.82" y1="534.90" x2="338.82" y2="537.70" stroke="#000" stroke-width="1.5" stroke-linecap="butt"/>
<line x1="346.42" y1="534.90" x2="346.42" y2="537.70" stroke="#000" stroke-width="1.5" stroke-linecap="butt"/>
<text transform="translate(346.70 463.90) scale(1.0 1.04)" font-size="9.5" font-weight="bold" text-anchor="end" fill="#111" stroke="#111" stroke-width="0.2">IgG2</text>
<line x1="368.50" y1="529.50" x2="368.50" y2="530.00" stroke="#111" stroke-width="1.0" stroke-linecap="butt"/>
<line x1="366.80" y1="529.50" x2="370.20" y2="529.50" stroke="#111" stroke-width="1.0" stroke-linecap="butt"/>
<rect x="365.50" y="530.50" width="6.00" height="4.40" fill="#d6d6d6" stroke="#1a1a1a" stroke-width="1.0"/>
<line x1="387.50" y1="511.50" x2="387.50" y2="516.00" stroke="#111" stroke-width="1.0" stroke-linecap="butt"/>
<line x1="385.80" y1="511.50" x2="389.20" y2="511.50" stroke="#111" stroke-width="1.0" stroke-linecap="butt"/>
<rect x="384.50" y="516.50" width="5.00" height="18.40" fill="#a3f5a3" stroke="#1a1a1a" stroke-width="1.0"/>
<line x1="394.50" y1="463.50" x2="394.50" y2="469.00" stroke="#111" stroke-width="1.0" stroke-linecap="butt"/>
<line x1="392.80" y1="463.50" x2="396.20" y2="463.50" stroke="#111" stroke-width="1.0" stroke-linecap="butt"/>
<rect x="391.50" y="469.50" width="6.00" height="65.40" fill="#a3f5a3" stroke="#1a1a1a" stroke-width="1.0"/>
<line x1="405.50" y1="527.50" x2="405.50" y2="529.00" stroke="#111" stroke-width="1.0" stroke-linecap="butt"/>
<line x1="403.80" y1="527.50" x2="407.20" y2="527.50" stroke="#111" stroke-width="1.0" stroke-linecap="butt"/>
<rect x="402.50" y="529.50" width="6.00" height="5.40" fill="#ffa3a3" stroke="#1a1a1a" stroke-width="1.0"/>
<line x1="413.50" y1="506.50" x2="413.50" y2="509.00" stroke="#111" stroke-width="1.0" stroke-linecap="butt"/>
<line x1="411.80" y1="506.50" x2="415.20" y2="506.50" stroke="#111" stroke-width="1.0" stroke-linecap="butt"/>
<rect x="410.50" y="509.50" width="5.00" height="25.40" fill="#ffa3a3" stroke="#1a1a1a" stroke-width="1.0"/>
<line x1="423.50" y1="526.50" x2="423.50" y2="528.00" stroke="#111" stroke-width="1.0" stroke-linecap="butt"/>
<line x1="421.80" y1="526.50" x2="425.20" y2="526.50" stroke="#111" stroke-width="1.0" stroke-linecap="butt"/>
<rect x="420.50" y="528.50" width="6.00" height="6.40" fill="#8cbcf8" stroke="#1a1a1a" stroke-width="1.0"/>
<line x1="431.50" y1="484.50" x2="431.50" y2="488.00" stroke="#111" stroke-width="1.0" stroke-linecap="butt"/>
<line x1="429.80" y1="484.50" x2="433.20" y2="484.50" stroke="#111" stroke-width="1.0" stroke-linecap="butt"/>
<rect x="428.50" y="488.50" width="6.00" height="46.40" fill="#8cbcf8" stroke="#1a1a1a" stroke-width="1.0"/>
<line x1="442.50" y1="526.50" x2="442.50" y2="527.00" stroke="#111" stroke-width="1.0" stroke-linecap="butt"/>
<line x1="440.80" y1="526.50" x2="444.20" y2="526.50" stroke="#111" stroke-width="1.0" stroke-linecap="butt"/>
<rect x="439.50" y="527.50" width="5.00" height="7.40" fill="#fff59a" stroke="#1a1a1a" stroke-width="1.0"/>
<line x1="449.50" y1="520.50" x2="449.50" y2="523.00" stroke="#111" stroke-width="1.0" stroke-linecap="butt"/>
<line x1="447.80" y1="520.50" x2="451.20" y2="520.50" stroke="#111" stroke-width="1.0" stroke-linecap="butt"/>
<rect x="446.50" y="523.50" width="6.00" height="11.40" fill="#fff59a" stroke="#1a1a1a" stroke-width="1.0"/>
<line x1="460.50" y1="527.50" x2="460.50" y2="529.00" stroke="#111" stroke-width="1.0" stroke-linecap="butt"/>
<line x1="458.80" y1="527.50" x2="462.20" y2="527.50" stroke="#111" stroke-width="1.0" stroke-linecap="butt"/>
<rect x="457.50" y="529.50" width="6.00" height="5.40" fill="#f0ccfa" stroke="#1a1a1a" stroke-width="1.0"/>
<line x1="468.50" y1="493.50" x2="468.50" y2="496.00" stroke="#111" stroke-width="1.0" stroke-linecap="butt"/>
<line x1="466.80" y1="493.50" x2="470.20" y2="493.50" stroke="#111" stroke-width="1.0" stroke-linecap="butt"/>
<rect x="465.50" y="496.50" width="5.00" height="38.40" fill="#f0ccfa" stroke="#1a1a1a" stroke-width="1.0"/>
<line x1="478.50" y1="526.50" x2="478.50" y2="527.00" stroke="#111" stroke-width="1.0" stroke-linecap="butt"/>
<line x1="476.80" y1="526.50" x2="480.20" y2="526.50" stroke="#111" stroke-width="1.0" stroke-linecap="butt"/>
<rect x="475.50" y="527.50" width="6.00" height="7.40" fill="#ffbf80" stroke="#1a1a1a" stroke-width="1.0"/>
<line x1="486.50" y1="487.50" x2="486.50" y2="491.00" stroke="#111" stroke-width="1.0" stroke-linecap="butt"/>
<line x1="484.80" y1="487.50" x2="488.20" y2="487.50" stroke="#111" stroke-width="1.0" stroke-linecap="butt"/>
<rect x="483.50" y="491.50" width="6.00" height="43.40" fill="#ffbf80" stroke="#1a1a1a" stroke-width="1.0"/>
<line x1="497.50" y1="520.50" x2="497.50" y2="522.00" stroke="#111" stroke-width="1.0" stroke-linecap="butt"/>
<line x1="495.80" y1="520.50" x2="499.20" y2="520.50" stroke="#111" stroke-width="1.0" stroke-linecap="butt"/>
<rect x="494.50" y="522.50" width="5.00" height="12.40" fill="#4f9a96" stroke="#1a1a1a" stroke-width="1.0"/>
<line x1="504.50" y1="517.50" x2="504.50" y2="520.00" stroke="#111" stroke-width="1.0" stroke-linecap="butt"/>
<line x1="502.80" y1="517.50" x2="506.20" y2="517.50" stroke="#111" stroke-width="1.0" stroke-linecap="butt"/>
<rect x="501.50" y="520.50" width="6.00" height="14.40" fill="#4f9a96" stroke="#1a1a1a" stroke-width="1.0"/>
<rect x="363.80" y="452.00" width="146.10" height="82.90" fill="none" stroke="#000" stroke-width="1.75"/>
<line x1="360.80" y1="452.00" x2="363.80" y2="452.00" stroke="#000" stroke-width="1.75" stroke-linecap="butt"/>
<line x1="360.80" y1="472.73" x2="363.80" y2="472.73" stroke="#000" stroke-width="1.75" stroke-linecap="butt"/>
<line x1="360.80" y1="493.45" x2="363.80" y2="493.45" stroke="#000" stroke-width="1.75" stroke-linecap="butt"/>
<line x1="360.80" y1="514.17" x2="363.80" y2="514.17" stroke="#000" stroke-width="1.75" stroke-linecap="butt"/>
<line x1="360.80" y1="534.90" x2="363.80" y2="534.90" stroke="#000" stroke-width="1.75" stroke-linecap="butt"/>
<line x1="368.60" y1="534.90" x2="368.60" y2="537.70" stroke="#000" stroke-width="1.5" stroke-linecap="butt"/>
<line x1="376.20" y1="534.90" x2="376.20" y2="537.70" stroke="#000" stroke-width="1.5" stroke-linecap="butt"/>
<line x1="386.96" y1="534.90" x2="386.96" y2="537.70" stroke="#000" stroke-width="1.5" stroke-linecap="butt"/>
<line x1="394.56" y1="534.90" x2="394.56" y2="537.70" stroke="#000" stroke-width="1.5" stroke-linecap="butt"/>
<line x1="405.32" y1="534.90" x2="405.32" y2="537.70" stroke="#000" stroke-width="1.5" stroke-linecap="butt"/>
<line x1="412.92" y1="534.90" x2="412.92" y2="537.70" stroke="#000" stroke-width="1.5" stroke-linecap="butt"/>
<line x1="423.68" y1="534.90" x2="423.68" y2="537.70" stroke="#000" stroke-width="1.5" stroke-linecap="butt"/>
<line x1="431.28" y1="534.90" x2="431.28" y2="537.70" stroke="#000" stroke-width="1.5" stroke-linecap="butt"/>
<line x1="442.04" y1="534.90" x2="442.04" y2="537.70" stroke="#000" stroke-width="1.5" stroke-linecap="butt"/>
<line x1="449.64" y1="534.90" x2="449.64" y2="537.70" stroke="#000" stroke-width="1.5" stroke-linecap="butt"/>
<line x1="460.40" y1="534.90" x2="460.40" y2="537.70" stroke="#000" stroke-width="1.5" stroke-linecap="butt"/>
<line x1="468.00" y1="534.90" x2="468.00" y2="537.70" stroke="#000" stroke-width="1.5" stroke-linecap="butt"/>
<line x1="478.76" y1="534.90" x2="478.76" y2="537.70" stroke="#000" stroke-width="1.5" stroke-linecap="butt"/>
<line x1="486.36" y1="534.90" x2="486.36" y2="537.70" stroke="#000" stroke-width="1.5" stroke-linecap="butt"/>
<line x1="497.12" y1="534.90" x2="497.12" y2="537.70" stroke="#000" stroke-width="1.5" stroke-linecap="butt"/>
<line x1="504.72" y1="534.90" x2="504.72" y2="537.70" stroke="#000" stroke-width="1.5" stroke-linecap="butt"/>
<text transform="translate(505.00 463.90) scale(1.0 1.04)" font-size="9.5" font-weight="bold" text-anchor="end" fill="#111" stroke="#111" stroke-width="0.2">IgG3</text>
<text transform="translate(41.30 538.80) scale(1.0 1.04)" font-size="9.4" text-anchor="end" fill="#111" stroke="#111" stroke-width="0.18">0</text>
<text transform="translate(41.30 518.07) scale(1.0 1.04)" font-size="9.4" text-anchor="end" fill="#111" stroke="#111" stroke-width="0.18">0.1</text>
<text transform="translate(41.30 497.35) scale(1.0 1.04)" font-size="9.4" text-anchor="end" fill="#111" stroke="#111" stroke-width="0.18">0.2</text>
<text transform="translate(41.30 476.62) scale(1.0 1.04)" font-size="9.4" text-anchor="end" fill="#111" stroke="#111" stroke-width="0.18">0.3</text>
<text transform="translate(41.30 455.90) scale(1.0 1.04)" font-size="9.4" text-anchor="end" fill="#111" stroke="#111" stroke-width="0.18">0.4</text>
<text transform="translate(21.60 492.25) rotate(-90) scale(1.0 0.97)" font-size="9.7" font-weight="bold" text-anchor="middle" fill="#111" stroke="#111" stroke-width="0.2">IL8 (ng/ml)</text>
<line x1="51.50" y1="631.50" x2="51.50" y2="632.00" stroke="#111" stroke-width="1.0" stroke-linecap="butt"/>
<line x1="49.80" y1="631.50" x2="53.20" y2="631.50" stroke="#111" stroke-width="1.0" stroke-linecap="butt"/>
<rect x="48.50" y="632.50" width="6.00" height="3.90" fill="#d6d6d6" stroke="#1a1a1a" stroke-width="1.0"/>
<line x1="70.50" y1="622.50" x2="70.50" y2="623.00" stroke="#111" stroke-width="1.0" stroke-linecap="butt"/>
<line x1="68.80" y1="622.50" x2="72.20" y2="622.50" stroke="#111" stroke-width="1.0" stroke-linecap="butt"/>
<rect x="67.50" y="623.50" width="5.00" height="12.90" fill="#a3f5a3" stroke="#1a1a1a" stroke-width="1.0"/>
<line x1="77.50" y1="584.50" x2="77.50" y2="588.00" stroke="#111" stroke-width="1.0" stroke-linecap="butt"/>
<line x1="75.80" y1="584.50" x2="79.20" y2="584.50" stroke="#111" stroke-width="1.0" stroke-linecap="butt"/>
<rect x="74.50" y="588.50" width="6.00" height="47.90" fill="#a3f5a3" stroke="#1a1a1a" stroke-width="1.0"/>
<line x1="88.50" y1="629.50" x2="88.50" y2="630.00" stroke="#111" stroke-width="1.0" stroke-linecap="butt"/>
<line x1="86.80" y1="629.50" x2="90.20" y2="629.50" stroke="#111" stroke-width="1.0" stroke-linecap="butt"/>
<rect x="85.50" y="630.50" width="6.00" height="5.90" fill="#ffa3a3" stroke="#1a1a1a" stroke-width="1.0"/>
<line x1="96.50" y1="630.50" x2="96.50" y2="632.00" stroke="#111" stroke-width="1.0" stroke-linecap="butt"/>
<line x1="94.80" y1="630.50" x2="98.20" y2="630.50" stroke="#111" stroke-width="1.0" stroke-linecap="butt"/>
<rect x="93.50" y="632.50" width="5.00" height="3.90" fill="#ffa3a3" stroke="#1a1a1a" stroke-width="1.0"/>
<line x1="106.50" y1="631.50" x2="106.50" y2="632.00" stroke="#111" stroke-width="1.0" stroke-linecap="butt"/>
<line x1="104.80" y1="631.50" x2="108.20" y2="631.50" stroke="#111" stroke-width="1.0" stroke-linecap="butt"/>
<rect x="103.50" y="632.50" width="6.00" height="3.90" fill="#8cbcf8" stroke="#1a1a1a" stroke-width="1.0"/>
<line x1="114.50" y1="593.50" x2="114.50" y2="597.00" stroke="#111" stroke-width="1.0" stroke-linecap="butt"/>
<line x1="112.80" y1="593.50" x2="116.20" y2="593.50" stroke="#111" stroke-width="1.0" stroke-linecap="butt"/>
<rect x="111.50" y="597.50" width="6.00" height="38.90" fill="#8cbcf8" stroke="#1a1a1a" stroke-width="1.0"/>
<line x1="125.50" y1="627.50" x2="125.50" y2="628.00" stroke="#111" stroke-width="1.0" stroke-linecap="butt"/>
<line x1="123.80" y1="627.50" x2="127.20" y2="627.50" stroke="#111" stroke-width="1.0" stroke-linecap="butt"/>
<rect x="122.50" y="628.50" width="5.00" height="7.90" fill="#fff59a" stroke="#1a1a1a" stroke-width="1.0"/>
<line x1="143.50" y1="629.50" x2="143.50" y2="630.00" stroke="#111" stroke-width="1.0" stroke-linecap="butt"/>
<line x1="141.80" y1="629.50" x2="145.20" y2="629.50" stroke="#111" stroke-width="1.0" stroke-linecap="butt"/>
<rect x="140.50" y="630.50" width="6.00" height="5.90" fill="#f0ccfa" stroke="#1a1a1a" stroke-width="1.0"/>
<line x1="151.50" y1="604.50" x2="151.50" y2="605.00" stroke="#111" stroke-width="1.0" stroke-linecap="butt"/>
<line x1="149.80" y1="604.50" x2="153.20" y2="604.50" stroke="#111" stroke-width="1.0" stroke-linecap="butt"/>
<rect x="148.50" y="605.50" width="5.00" height="30.90" fill="#f0ccfa" stroke="#1a1a1a" stroke-width="1.0"/>
<line x1="161.50" y1="627.50" x2="161.50" y2="628.00" stroke="#111" stroke-width="1.0" stroke-linecap="butt"/>
<line x1="159.80" y1="627.50" x2="163.20" y2="627.50" stroke="#111" stroke-width="1.0" stroke-linecap="butt"/>
<rect x="158.50" y="628.50" width="6.00" height="7.90" fill="#ffbf80" stroke="#1a1a1a" stroke-width="1.0"/>
<line x1="169.50" y1="616.50" x2="169.50" y2="619.00" stroke="#111" stroke-width="1.0" stroke-linecap="butt"/>
<line x1="167.80" y1="616.50" x2="171.20" y2="616.50" stroke="#111" stroke-width="1.0" stroke-linecap="butt"/>
<rect x="166.50" y="619.50" width="6.00" height="16.90" fill="#ffbf80" stroke="#1a1a1a" stroke-width="1.0"/>
<line x1="180.50" y1="624.50" x2="180.50" y2="626.00" stroke="#111" stroke-width="1.0" stroke-linecap="butt"/>
<line x1="178.80" y1="624.50" x2="182.20" y2="624.50" stroke="#111" stroke-width="1.0" stroke-linecap="butt"/>
<rect x="177.50" y="626.50" width="5.00" height="9.90" fill="#4f9a96" stroke="#1a1a1a" stroke-width="1.0"/>
<line x1="187.50" y1="633.50" x2="187.50" y2="635.00" stroke="#111" stroke-width="1.0" stroke-linecap="butt"/>
<line x1="185.80" y1="633.50" x2="189.20" y2="633.50" stroke="#111" stroke-width="1.0" stroke-linecap="butt"/>
<rect x="184.50" y="635.50" width="6.00" height="0.90" fill="#4f9a96" stroke="#1a1a1a" stroke-width="1.0"/>
<rect x="46.80" y="553.90" width="146.10" height="82.50" fill="none" stroke="#000" stroke-width="1.75"/>
<line x1="43.80" y1="553.90" x2="46.80" y2="553.90" stroke="#000" stroke-width="1.75" stroke-linecap="butt"/>
<line x1="43.80" y1="574.52" x2="46.80" y2="574.52" stroke="#000" stroke-width="1.75" stroke-linecap="butt"/>
<line x1="43.80" y1="595.15" x2="46.80" y2="595.15" stroke="#000" stroke-width="1.75" stroke-linecap="butt"/>
<line x1="43.80" y1="615.77" x2="46.80" y2="615.77" stroke="#000" stroke-width="1.75" stroke-linecap="butt"/>
<line x1="43.80" y1="636.40" x2="46.80" y2="636.40" stroke="#000" stroke-width="1.75" stroke-linecap="butt"/>
<line x1="51.60" y1="636.40" x2="51.60" y2="639.20" stroke="#000" stroke-width="1.5" stroke-linecap="butt"/>
<line x1="59.20" y1="636.40" x2="59.20" y2="639.20" stroke="#000" stroke-width="1.5" stroke-linecap="butt"/>
<line x1="69.96" y1="636.40" x2="69.96" y2="639.20" stroke="#000" stroke-width="1.5" stroke-linecap="butt"/>
<line x1="77.56" y1="636.40" x2="77.56" y2="639.20" stroke="#000" stroke-width="1.5" stroke-linecap="butt"/>
<line x1="88.32" y1="636.40" x2="88.32" y2="639.20" stroke="#000" stroke-width="1.5" stroke-linecap="butt"/>
<line x1="95.92" y1="636.40" x2="95.92" y2="639.20" stroke="#000" stroke-width="1.5" stroke-linecap="butt"/>
<line x1="106.68" y1="636.40" x2="106.68" y2="639.20" stroke="#000" stroke-width="1.5" stroke-linecap="butt"/>
<line x1="114.28" y1="636.40" x2="114.28" y2="639.20" stroke="#000" stroke-width="1.5" stroke-linecap="butt"/>
<line x1="125.04" y1="636.40" x2="125.04" y2="639.20" stroke="#000" stroke-width="1.5" stroke-linecap="butt"/>
<line x1="132.64" y1="636.40" x2="132.64" y2="639.20" stroke="#000" stroke-width="1.5" stroke-linecap="butt"/>
<line x1="143.40" y1="636.40" x2="143.40" y2="639.20" stroke="#000" stroke-width="1.5" stroke-linecap="butt"/>
<line x1="151.00" y1="636.40" x2="151.00" y2="639.20" stroke="#000" stroke-width="1.5" stroke-linecap="butt"/>
<line x1="161.76" y1="636.40" x2="161.76" y2="639.20" stroke="#000" stroke-width="1.5" stroke-linecap="butt"/>
<line x1="169.36" y1="636.40" x2="169.36" y2="639.20" stroke="#000" stroke-width="1.5" stroke-linecap="butt"/>
<line x1="180.12" y1="636.40" x2="180.12" y2="639.20" stroke="#000" stroke-width="1.5" stroke-linecap="butt"/>
<line x1="187.72" y1="636.40" x2="187.72" y2="639.20" stroke="#000" stroke-width="1.5" stroke-linecap="butt"/>
<text transform="translate(188.00 565.80) scale(1.0 1.04)" font-size="9.5" font-weight="bold" text-anchor="end" fill="#111" stroke="#111" stroke-width="0.2">IgG4</text>
<line x1="210.50" y1="628.50" x2="210.50" y2="631.00" stroke="#111" stroke-width="1.0" stroke-linecap="butt"/>
<line x1="208.80" y1="628.50" x2="212.20" y2="628.50" stroke="#111" stroke-width="1.0" stroke-linecap="butt"/>
<rect x="207.50" y="631.50" width="6.00" height="4.90" fill="#d6d6d6" stroke="#1a1a1a" stroke-width="1.0"/>
<line x1="218.50" y1="629.50" x2="218.50" y2="631.00" stroke="#111" stroke-width="1.0" stroke-linecap="butt"/>
<line x1="216.80" y1="629.50" x2="220.20" y2="629.50" stroke="#111" stroke-width="1.0" stroke-linecap="butt"/>
<rect x="215.50" y="631.50" width="5.00" height="4.90" fill="#d6d6d6" stroke="#1a1a1a" stroke-width="1.0"/>
<line x1="228.50" y1="619.50" x2="228.50" y2="622.00" stroke="#111" stroke-width="1.0" stroke-linecap="butt"/>
<line x1="226.80" y1="619.50" x2="230.20" y2="619.50" stroke="#111" stroke-width="1.0" stroke-linecap="butt"/>
<rect x="225.50" y="622.50" width="6.00" height="13.90" fill="#a3f5a3" stroke="#1a1a1a" stroke-width="1.0"/>
<line x1="236.50" y1="618.50" x2="236.50" y2="620.00" stroke="#111" stroke-width="1.0" stroke-linecap="butt"/>
<line x1="234.80" y1="618.50" x2="238.20" y2="618.50" stroke="#111" stroke-width="1.0" stroke-linecap="butt"/>
<rect x="233.50" y="620.50" width="6.00" height="15.90" fill="#a3f5a3" stroke="#1a1a1a" stroke-width="1.0"/>
<line x1="247.50" y1="630.50" x2="247.50" y2="631.00" stroke="#111" stroke-width="1.0" stroke-linecap="butt"/>
<line x1="245.80" y1="630.50" x2="249.20" y2="630.50" stroke="#111" stroke-width="1.0" stroke-linecap="butt"/>
<rect x="244.50" y="631.50" width="5.00" height="4.90" fill="#ffa3a3" stroke="#1a1a1a" stroke-width="1.0"/>
<line x1="254.50" y1="595.50" x2="254.50" y2="596.00" stroke="#111" stroke-width="1.0" stroke-linecap="butt"/>
<line x1="252.80" y1="595.50" x2="256.20" y2="595.50" stroke="#111" stroke-width="1.0" stroke-linecap="butt"/>
<rect x="251.50" y="596.50" width="6.00" height="39.90" fill="#ffa3a3" stroke="#1a1a1a" stroke-width="1.0"/>
<line x1="265.50" y1="630.50" x2="265.50" y2="631.00" stroke="#111" stroke-width="1.0" stroke-linecap="butt"/>
<line x1="263.80" y1="630.50" x2="267.20" y2="630.50" stroke="#111" stroke-width="1.0" stroke-linecap="butt"/>
<rect x="262.50" y="631.50" width="6.00" height="4.90" fill="#8cbcf8" stroke="#1a1a1a" stroke-width="1.0"/>
<line x1="273.50" y1="579.50" x2="273.50" y2="585.00" stroke="#111" stroke-width="1.0" stroke-linecap="butt"/>
<line x1="271.80" y1="579.50" x2="275.20" y2="579.50" stroke="#111" stroke-width="1.0" stroke-linecap="butt"/>
<rect x="270.50" y="585.50" width="5.00" height="50.90" fill="#8cbcf8" stroke="#1a1a1a" stroke-width="1.0"/>
<line x1="283.50" y1="628.50" x2="283.50" y2="629.00" stroke="#111" stroke-width="1.0" stroke-linecap="butt"/>
<line x1="281.80" y1="628.50" x2="285.20" y2="628.50" stroke="#111" stroke-width="1.0" stroke-linecap="butt"/>
<rect x="280.50" y="629.50" width="6.00" height="6.90" fill="#fff59a" stroke="#1a1a1a" stroke-width="1.0"/>
<line x1="291.50" y1="628.50" x2="291.50" y2="629.00" stroke="#111" stroke-width="1.0" stroke-linecap="butt"/>
<line x1="289.80" y1="628.50" x2="293.20" y2="628.50" stroke="#111" stroke-width="1.0" stroke-linecap="butt"/>
<rect x="288.50" y="629.50" width="6.00" height="6.90" fill="#fff59a" stroke="#1a1a1a" stroke-width="1.0"/>
<line x1="302.50" y1="629.50" x2="302.50" y2="630.00" stroke="#111" stroke-width="1.0" stroke-linecap="butt"/>
<line x1="300.80" y1="629.50" x2="304.20" y2="629.50" stroke="#111" stroke-width="1.0" stroke-linecap="butt"/>
<rect x="299.50" y="630.50" width="5.00" height="5.90" fill="#f0ccfa" stroke="#1a1a1a" stroke-width="1.0"/>
<line x1="309.50" y1="628.50" x2="309.50" y2="629.00" stroke="#111" stroke-width="1.0" stroke-linecap="butt"/>
<line x1="307.80" y1="628.50" x2="311.20" y2="628.50" stroke="#111" stroke-width="1.0" stroke-linecap="butt"/>
<rect x="306.50" y="629.50" width="6.00" height="6.90" fill="#f0ccfa" stroke="#1a1a1a" stroke-width="1.0"/>
<line x1="320.50" y1="629.50" x2="320.50" y2="630.00" stroke="#111" stroke-width="1.0" stroke-linecap="butt"/>
<line x1="318.80" y1="629.50" x2="322.20" y2="629.50" stroke="#111" stroke-width="1.0" stroke-linecap="butt"/>
<rect x="317.50" y="630.50" width="6.00" height="5.90" fill="#ffbf80" stroke="#1a1a1a" stroke-width="1.0"/>
<line x1="328.50" y1="580.50" x2="328.50" y2="581.00" stroke="#111" stroke-width="1.0" stroke-linecap="butt"/>
<line x1="326.80" y1="580.50" x2="330.20" y2="580.50" stroke="#111" stroke-width="1.0" stroke-linecap="butt"/>
<rect x="325.50" y="581.50" width="5.00" height="54.90" fill="#ffbf80" stroke="#1a1a1a" stroke-width="1.0"/>
<line x1="339.50" y1="623.50" x2="339.50" y2="627.00" stroke="#111" stroke-width="1.0" stroke-linecap="butt"/>
<line x1="337.80" y1="623.50" x2="341.20" y2="623.50" stroke="#111" stroke-width="1.0" stroke-linecap="butt"/>
<rect x="336.50" y="627.50" width="5.00" height="8.90" fill="#4f9a96" stroke="#1a1a1a" stroke-width="1.0"/>
<line x1="346.50" y1="614.50" x2="346.50" y2="618.00" stroke="#111" stroke-width="1.0" stroke-linecap="butt"/>
<line x1="344.80" y1="614.50" x2="348.20" y2="614.50" stroke="#111" stroke-width="1.0" stroke-linecap="butt"/>
<rect x="343.50" y="618.50" width="6.00" height="17.90" fill="#4f9a96" stroke="#1a1a1a" stroke-width="1.0"/>
<rect x="205.50" y="553.90" width="146.10" height="82.50" fill="none" stroke="#000" stroke-width="1.75"/>
<line x1="202.50" y1="553.90" x2="205.50" y2="553.90" stroke="#000" stroke-width="1.75" stroke-linecap="butt"/>
<line x1="202.50" y1="574.52" x2="205.50" y2="574.52" stroke="#000" stroke-width="1.75" stroke-linecap="butt"/>
<line x1="202.50" y1="595.15" x2="205.50" y2="595.15" stroke="#000" stroke-width="1.75" stroke-linecap="butt"/>
<line x1="202.50" y1="615.77" x2="205.50" y2="615.77" stroke="#000" stroke-width="1.75" stroke-linecap="butt"/>
<line x1="202.50" y1="636.40" x2="205.50" y2="636.40" stroke="#000" stroke-width="1.75" stroke-linecap="butt"/>
<line x1="210.30" y1="636.40" x2="210.30" y2="639.20" stroke="#000" stroke-width="1.5" stroke-linecap="butt"/>
<line x1="217.90" y1="636.40" x2="217.90" y2="639.20" stroke="#000" stroke-width="1.5" stroke-linecap="butt"/>
<line x1="228.66" y1="636.40" x2="228.66" y2="639.20" stroke="#000" stroke-width="1.5" stroke-linecap="butt"/>
<line x1="236.26" y1="636.40" x2="236.26" y2="639.20" stroke="#000" stroke-width="1.5" stroke-linecap="butt"/>
<line x1="247.02" y1="636.40" x2="247.02" y2="639.20" stroke="#000" stroke-width="1.5" stroke-linecap="butt"/>
<line x1="254.62" y1="636.40" x2="254.62" y2="639.20" stroke="#000" stroke-width="1.5" stroke-linecap="butt"/>
<line x1="265.38" y1="636.40" x2="265.38" y2="639.20" stroke="#000" stroke-width="1.5" stroke-linecap="butt"/>
<line x1="272.98" y1="636.40" x2="272.98" y2="639.20" stroke="#000" stroke-width="1.5" stroke-linecap="butt"/>
<line x1="283.74" y1="636.40" x2="283.74" y2="639.20" stroke="#000" stroke-width="1.5" stroke-linecap="butt"/>
<line x1="291.34" y1="636.40" x2="291.34" y2="639.20" stroke="#000" stroke-width="1.5" stroke-linecap="butt"/>
<line x1="302.10" y1="636.40" x2="302.10" y2="639.20" stroke="#000" stroke-width="1.5" stroke-linecap="butt"/>
<line x1="309.70" y1="636.40" x2="309.70" y2="639.20" stroke="#000" stroke-width="1.5" stroke-linecap="butt"/>
<line x1="320.46" y1="636.40" x2="320.46" y2="639.20" stroke="#000" stroke-width="1.5" stroke-linecap="butt"/>
<line x1="328.06" y1="636.40" x2="328.06" y2="639.20" stroke="#000" stroke-width="1.5" stroke-linecap="butt"/>
<line x1="338.82" y1="636.40" x2="338.82" y2="639.20" stroke="#000" stroke-width="1.5" stroke-linecap="butt"/>
<line x1="346.42" y1="636.40" x2="346.42" y2="639.20" stroke="#000" stroke-width="1.5" stroke-linecap="butt"/>
<text transform="translate(346.70 565.80) scale(1.0 1.04)" font-size="9.5" font-weight="bold" text-anchor="end" fill="#111" stroke="#111" stroke-width="0.2">mIgG1</text>
<line x1="368.50" y1="631.50" x2="368.50" y2="632.00" stroke="#111" stroke-width="1.0" stroke-linecap="butt"/>
<line x1="366.80" y1="631.50" x2="370.20" y2="631.50" stroke="#111" stroke-width="1.0" stroke-linecap="butt"/>
<rect x="365.50" y="632.50" width="6.00" height="3.90" fill="#d6d6d6" stroke="#1a1a1a" stroke-width="1.0"/>
<line x1="376.50" y1="631.50" x2="376.50" y2="633.00" stroke="#111" stroke-width="1.0" stroke-linecap="butt"/>
<line x1="374.80" y1="631.50" x2="378.20" y2="631.50" stroke="#111" stroke-width="1.0" stroke-linecap="butt"/>
<rect x="373.50" y="633.50" width="6.00" height="2.90" fill="#d6d6d6" stroke="#1a1a1a" stroke-width="1.0"/>
<line x1="387.50" y1="619.50" x2="387.50" y2="622.00" stroke="#111" stroke-width="1.0" stroke-linecap="butt"/>
<line x1="385.80" y1="619.50" x2="389.20" y2="619.50" stroke="#111" stroke-width="1.0" stroke-linecap="butt"/>
<rect x="384.50" y="622.50" width="5.00" height="13.90" fill="#a3f5a3" stroke="#1a1a1a" stroke-width="1.0"/>
<line x1="394.50" y1="565.50" x2="394.50" y2="574.00" stroke="#111" stroke-width="1.0" stroke-linecap="butt"/>
<line x1="392.80" y1="565.50" x2="396.20" y2="565.50" stroke="#111" stroke-width="1.0" stroke-linecap="butt"/>
<rect x="391.50" y="574.50" width="6.00" height="61.90" fill="#a3f5a3" stroke="#1a1a1a" stroke-width="1.0"/>
<line x1="405.50" y1="630.50" x2="405.50" y2="631.00" stroke="#111" stroke-width="1.0" stroke-linecap="butt"/>
<line x1="403.80" y1="630.50" x2="407.20" y2="630.50" stroke="#111" stroke-width="1.0" stroke-linecap="butt"/>
<rect x="402.50" y="631.50" width="6.00" height="4.90" fill="#ffa3a3" stroke="#1a1a1a" stroke-width="1.0"/>
<line x1="413.50" y1="608.50" x2="413.50" y2="612.00" stroke="#111" stroke-width="1.0" stroke-linecap="butt"/>
<line x1="411.80" y1="608.50" x2="415.20" y2="608.50" stroke="#111" stroke-width="1.0" stroke-linecap="butt"/>
<rect x="410.50" y="612.50" width="5.00" height="23.90" fill="#ffa3a3" stroke="#1a1a1a" stroke-width="1.0"/>
<line x1="423.50" y1="627.50" x2="423.50" y2="630.00" stroke="#111" stroke-width="1.0" stroke-linecap="butt"/>
<line x1="421.80" y1="627.50" x2="425.20" y2="627.50" stroke="#111" stroke-width="1.0" stroke-linecap="butt"/>
<rect x="420.50" y="630.50" width="6.00" height="5.90" fill="#8cbcf8" stroke="#1a1a1a" stroke-width="1.0"/>
<line x1="431.50" y1="587.50" x2="431.50" y2="592.00" stroke="#111" stroke-width="1.0" stroke-linecap="butt"/>
<line x1="429.80" y1="587.50" x2="433.20" y2="587.50" stroke="#111" stroke-width="1.0" stroke-linecap="butt"/>
<rect x="428.50" y="592.50" width="6.00" height="43.90" fill="#8cbcf8" stroke="#1a1a1a" stroke-width="1.0"/>
<line x1="442.50" y1="627.50" x2="442.50" y2="628.00" stroke="#111" stroke-width="1.0" stroke-linecap="butt"/>
<line x1="440.80" y1="627.50" x2="444.20" y2="627.50" stroke="#111" stroke-width="1.0" stroke-linecap="butt"/>
<rect x="439.50" y="628.50" width="5.00" height="7.90" fill="#fff59a" stroke="#1a1a1a" stroke-width="1.0"/>
<line x1="449.50" y1="625.50" x2="449.50" y2="627.00" stroke="#111" stroke-width="1.0" stroke-linecap="butt"/>
<line x1="447.80" y1="625.50" x2="451.20" y2="625.50" stroke="#111" stroke-width="1.0" stroke-linecap="butt"/>
<rect x="446.50" y="627.50" width="6.00" height="8.90" fill="#fff59a" stroke="#1a1a1a" stroke-width="1.0"/>
<line x1="460.50" y1="629.50" x2="460.50" y2="630.00" stroke="#111" stroke-width="1.0" stroke-linecap="butt"/>
<line x1="458.80" y1="629.50" x2="462.20" y2="629.50" stroke="#111" stroke-width="1.0" stroke-linecap="butt"/>
<rect x="457.50" y="630.50" width="6.00" height="5.90" fill="#f0ccfa" stroke="#1a1a1a" stroke-width="1.0"/>
<line x1="468.50" y1="596.50" x2="468.50" y2="597.00" stroke="#111" stroke-width="1.0" stroke-linecap="butt"/>
<line x1="466.80" y1="596.50" x2="470.20" y2="596.50" stroke="#111" stroke-width="1.0" stroke-linecap="butt"/>
<rect x="465.50" y="597.50" width="5.00" height="38.90" fill="#f0ccfa" stroke="#1a1a1a" stroke-width="1.0"/>
<line x1="478.50" y1="629.50" x2="478.50" y2="630.00" stroke="#111" stroke-width="1.0" stroke-linecap="butt"/>
<line x1="476.80" y1="629.50" x2="480.20" y2="629.50" stroke="#111" stroke-width="1.0" stroke-linecap="butt"/>
<rect x="475.50" y="630.50" width="6.00" height="5.90" fill="#ffbf80" stroke="#1a1a1a" stroke-width="1.0"/>
<line x1="486.50" y1="587.50" x2="486.50" y2="589.00" stroke="#111" stroke-width="1.0" stroke-linecap="butt"/>
<line x1="484.80" y1="587.50" x2="488.20" y2="587.50" stroke="#111" stroke-width="1.0" stroke-linecap="butt"/>
<rect x="483.50" y="589.50" width="6.00" height="46.90" fill="#ffbf80" stroke="#1a1a1a" stroke-width="1.0"/>
<line x1="497.50" y1="623.50" x2="497.50" y2="624.00" stroke="#111" stroke-width="1.0" stroke-linecap="butt"/>
<line x1="495.80" y1="623.50" x2="499.20" y2="623.50" stroke="#111" stroke-width="1.0" stroke-linecap="butt"/>
<rect x="494.50" y="624.50" width="5.00" height="11.90" fill="#4f9a96" stroke="#1a1a1a" stroke-width="1.0"/>
<line x1="504.50" y1="588.50" x2="504.50" y2="589.00" stroke="#111" stroke-width="1.0" stroke-linecap="butt"/>
<line x1="502.80" y1="588.50" x2="506.20" y2="588.50" stroke="#111" stroke-width="1.0" stroke-linecap="butt"/>
<rect x="501.50" y="589.50" width="6.00" height="46.90" fill="#4f9a96" stroke="#1a1a1a" stroke-width="1.0"/>
<rect x="363.80" y="553.90" width="146.10" height="82.50" fill="none" stroke="#000" stroke-width="1.75"/>
<line x1="360.80" y1="553.90" x2="363.80" y2="553.90" stroke="#000" stroke-width="1.75" stroke-linecap="butt"/>
<line x1="360.80" y1="574.52" x2="363.80" y2="574.52" stroke="#000" stroke-width="1.75" stroke-linecap="butt"/>
<line x1="360.80" y1="595.15" x2="363.80" y2="595.15" stroke="#000" stroke-width="1.75" stroke-linecap="butt"/>
<line x1="360.80" y1="615.77" x2="363.80" y2="615.77" stroke="#000" stroke-width="1.75" stroke-linecap="butt"/>
<line x1="360.80" y1="636.40" x2="363.80" y2="636.40" stroke="#000" stroke-width="1.75" stroke-linecap="butt"/>
<line x1="368.60" y1="636.40" x2="368.60" y2="639.20" stroke="#000" stroke-width="1.5" stroke-linecap="butt"/>
<line x1="376.20" y1="636.40" x2="376.20" y2="639.20" stroke="#000" stroke-width="1.5" stroke-linecap="butt"/>
<line x1="386.96" y1="636.40" x2="386.96" y2="639.20" stroke="#000" stroke-width="1.5" stroke-linecap="butt"/>
<line x1="394.56" y1="636.40" x2="394.56" y2="639.20" stroke="#000" stroke-width="1.5" stroke-linecap="butt"/>
<line x1="405.32" y1="636.40" x2="405.32" y2="639.20" stroke="#000" stroke-width="1.5" stroke-linecap="butt"/>
<line x1="412.92" y1="636.40" x2="412.92" y2="639.20" stroke="#000" stroke-width="1.5" stroke-linecap="butt"/>
<line x1="423.68" y1="636.40" x2="423.68" y2="639.20" stroke="#000" stroke-width="1.5" stroke-linecap="butt"/>
<line x1="431.28" y1="636.40" x2="431.28" y2="639.20" stroke="#000" stroke-width="1.5" stroke-linecap="butt"/>
<line x1="442.04" y1="636.40" x2="442.04" y2="639.20" stroke="#000" stroke-width="1.5" stroke-linecap="butt"/>
<line x1="449.64" y1="636.40" x2="449.64" y2="639.20" stroke="#000" stroke-width="1.5" stroke-linecap="butt"/>
<line x1="460.40" y1="636.40" x2="460.40" y2="639.20" stroke="#000" stroke-width="1.5" stroke-linecap="butt"/>
<line x1="468.00" y1="636.40" x2="468.00" y2="639.20" stroke="#000" stroke-width="1.5" stroke-linecap="butt"/>
<line x1="478.76" y1="636.40" x2="478.76" y2="639.20" stroke="#000" stroke-width="1.5" stroke-linecap="butt"/>
<line x1="486.36" y1="636.40" x2="486.36" y2="639.20" stroke="#000" stroke-width="1.5" stroke-linecap="butt"/>
<line x1="497.12" y1="636.40" x2="497.12" y2="639.20" stroke="#000" stroke-width="1.5" stroke-linecap="butt"/>
<line x1="504.72" y1="636.40" x2="504.72" y2="639.20" stroke="#000" stroke-width="1.5" stroke-linecap="butt"/>
<text transform="translate(505.00 565.80) scale(1.0 1.04)" font-size="9.5" font-weight="bold" text-anchor="end" fill="#111" stroke="#111" stroke-width="0.2">mIgG2A</text>
<text transform="translate(41.30 640.30) scale(1.0 1.04)" font-size="9.4" text-anchor="end" fill="#111" stroke="#111" stroke-width="0.18">0</text>
<text transform="translate(41.30 619.67) scale(1.0 1.04)" font-size="9.4" text-anchor="end" fill="#111" stroke="#111" stroke-width="0.18">0.1</text>
<text transform="translate(41.30 599.05) scale(1.0 1.04)" font-size="9.4" text-anchor="end" fill="#111" stroke="#111" stroke-width="0.18">0.2</text>
<text transform="translate(41.30 578.42) scale(1.0 1.04)" font-size="9.4" text-anchor="end" fill="#111" stroke="#111" stroke-width="0.18">0.3</text>
<text transform="translate(41.30 557.80) scale(1.0 1.04)" font-size="9.4" text-anchor="end" fill="#111" stroke="#111" stroke-width="0.18">0.4</text>
<text transform="translate(21.60 594.50) rotate(-90) scale(1.0 0.97)" font-size="9.7" font-weight="bold" text-anchor="middle" fill="#111" stroke="#111" stroke-width="0.2">IL8 (ng/ml)</text>
<path d="M517.40 452.00 H524.90 V636.70 H517.40" fill="none" stroke="#000" stroke-width="1.7"/>
<text transform="translate(532.80 544.40) rotate(90) scale(1.0 1.04)" font-size="9.5" font-weight="bold" text-anchor="middle" fill="#111" stroke="#111" stroke-width="0.2">&#945;TNFR2 (C4)</text>
<text transform="translate(52.20 650.00) scale(1.0 1.04)" font-size="9.0" font-weight="bold" text-anchor="middle" fill="#111" stroke="#111" stroke-width="0.35">-</text>
<text transform="translate(59.60 650.20) scale(1.0 1.04)" font-size="9.0" font-weight="bold" text-anchor="middle" fill="#111" stroke="#111" stroke-width="0.35">+</text>
<path d="M47.60 653.10 V655.40 H63.20 V653.10" fill="none" stroke="#000" stroke-width="1.6"/>
<text transform="translate(56.20 666.90) scale(1.0 1.04)" font-size="9.3" font-weight="bold" text-anchor="middle" fill="#111" stroke="#111" stroke-width="0.2">-</text>
<text transform="translate(70.56 650.00) scale(1.0 1.04)" font-size="9.0" font-weight="bold" text-anchor="middle" fill="#111" stroke="#111" stroke-width="0.35">-</text>
<text transform="translate(77.96 650.20) scale(1.0 1.04)" font-size="9.0" font-weight="bold" text-anchor="middle" fill="#111" stroke="#111" stroke-width="0.35">+</text>
<path d="M65.96 653.10 V655.40 H81.56 V653.10" fill="none" stroke="#000" stroke-width="1.6"/>
<text transform="translate(74.56 666.90) scale(1.0 1.04)" font-size="9.3" font-weight="bold" text-anchor="middle" fill="#111" stroke="#111" stroke-width="0.2">1A</text>
<text transform="translate(88.92 650.00) scale(1.0 1.04)" font-size="9.0" font-weight="bold" text-anchor="middle" fill="#111" stroke="#111" stroke-width="0.35">-</text>
<text transform="translate(96.32 650.20) scale(1.0 1.04)" font-size="9.0" font-weight="bold" text-anchor="middle" fill="#111" stroke="#111" stroke-width="0.35">+</text>
<path d="M84.32 653.10 V655.40 H99.92 V653.10" fill="none" stroke="#000" stroke-width="1.6"/>
<text transform="translate(92.92 666.90) scale(1.0 1.04)" font-size="9.3" font-weight="bold" text-anchor="middle" fill="#111" stroke="#111" stroke-width="0.2">2A</text>
<text transform="translate(107.28 650.00) scale(1.0 1.04)" font-size="9.0" font-weight="bold" text-anchor="middle" fill="#111" stroke="#111" stroke-width="0.35">-</text>
<text transform="translate(114.68 650.20) scale(1.0 1.04)" font-size="9.0" font-weight="bold" text-anchor="middle" fill="#111" stroke="#111" stroke-width="0.35">+</text>
<path d="M102.68 653.10 V655.40 H118.28 V653.10" fill="none" stroke="#000" stroke-width="1.6"/>
<text transform="translate(111.28 666.90) scale(1.0 1.04)" font-size="9.3" font-weight="bold" text-anchor="middle" fill="#111" stroke="#111" stroke-width="0.2">2B</text>
<text transform="translate(125.64 650.00) scale(1.0 1.04)" font-size="9.0" font-weight="bold" text-anchor="middle" fill="#111" stroke="#111" stroke-width="0.35">-</text>
<text transform="translate(133.04 650.20) scale(1.0 1.04)" font-size="9.0" font-weight="bold" text-anchor="middle" fill="#111" stroke="#111" stroke-width="0.35">+</text>
<path d="M121.04 653.10 V655.40 H136.64 V653.10" fill="none" stroke="#000" stroke-width="1.6"/>
<text transform="translate(129.64 666.90) scale(1.0 1.04)" font-size="9.3" font-weight="bold" text-anchor="middle" fill="#111" stroke="#111" stroke-width="0.2">3A</text>
<text transform="translate(144.00 650.00) scale(1.0 1.04)" font-size="9.0" font-weight="bold" text-anchor="middle" fill="#111" stroke="#111" stroke-width="0.35">-</text>
<text transform="translate(151.40 650.20) scale(1.0 1.04)" font-size="9.0" font-weight="bold" text-anchor="middle" fill="#111" stroke="#111" stroke-width="0.35">+</text>
<path d="M139.40 653.10 V655.40 H155.00 V653.10" fill="none" stroke="#000" stroke-width="1.6"/>
<text transform="translate(148.00 666.90) scale(1.0 1.04)" font-size="9.3" font-weight="bold" text-anchor="middle" fill="#111" stroke="#111" stroke-width="0.2">1</text>
<text transform="translate(162.36 650.00) scale(1.0 1.04)" font-size="9.0" font-weight="bold" text-anchor="middle" fill="#111" stroke="#111" stroke-width="0.35">-</text>
<text transform="translate(169.76 650.20) scale(1.0 1.04)" font-size="9.0" font-weight="bold" text-anchor="middle" fill="#111" stroke="#111" stroke-width="0.35">+</text>
<path d="M157.76 653.10 V655.40 H173.36 V653.10" fill="none" stroke="#000" stroke-width="1.6"/>
<text transform="translate(166.36 666.90) scale(1.0 1.04)" font-size="9.3" font-weight="bold" text-anchor="middle" fill="#111" stroke="#111" stroke-width="0.2">2B</text>
<text transform="translate(180.72 650.00) scale(1.0 1.04)" font-size="9.0" font-weight="bold" text-anchor="middle" fill="#111" stroke="#111" stroke-width="0.35">-</text>
<text transform="translate(188.12 650.20) scale(1.0 1.04)" font-size="9.0" font-weight="bold" text-anchor="middle" fill="#111" stroke="#111" stroke-width="0.35">+</text>
<path d="M176.12 653.10 V655.40 H191.72 V653.10" fill="none" stroke="#000" stroke-width="1.6"/>
<text transform="translate(184.72 666.90) scale(1.0 1.04)" font-size="9.3" font-weight="bold" text-anchor="middle" fill="#111" stroke="#111" stroke-width="0.2">4</text>
<path d="M65.96 669.70 V672.00 H136.64 V669.70" fill="none" stroke="#000" stroke-width="1.6"/>
<path d="M139.40 669.70 V672.00 H191.72 V669.70" fill="none" stroke="#000" stroke-width="1.6"/>
<text transform="translate(101.60 682.60) scale(1.0 1.04)" font-size="9.4" font-weight="bold" text-anchor="middle" fill="#111" stroke="#111" stroke-width="0.2">hFc&#947;R</text>
<text transform="translate(169.46 682.60) scale(1.0 1.04)" font-size="9.4" font-weight="bold" text-anchor="middle" fill="#111" stroke="#111" stroke-width="0.2">mFc&#947;R</text>
<text transform="translate(210.90 650.00) scale(1.0 1.04)" font-size="9.0" font-weight="bold" text-anchor="middle" fill="#111" stroke="#111" stroke-width="0.35">-</text>
<text transform="translate(218.30 650.20) scale(1.0 1.04)" font-size="9.0" font-weight="bold" text-anchor="middle" fill="#111" stroke="#111" stroke-width="0.35">+</text>
<path d="M206.30 653.10 V655.40 H221.90 V653.10" fill="none" stroke="#000" stroke-width="1.6"/>
<text transform="translate(214.90 666.90) scale(1.0 1.04)" font-size="9.3" font-weight="bold" text-anchor="middle" fill="#111" stroke="#111" stroke-width="0.2">-</text>
<text transform="translate(229.26 650.00) scale(1.0 1.04)" font-size="9.0" font-weight="bold" text-anchor="middle" fill="#111" stroke="#111" stroke-width="0.35">-</text>
<text transform="translate(236.66 650.20) scale(1.0 1.04)" font-size="9.0" font-weight="bold" text-anchor="middle" fill="#111" stroke="#111" stroke-width="0.35">+</text>
<path d="M224.66 653.10 V655.40 H240.26 V653.10" fill="none" stroke="#000" stroke-width="1.6"/>
<text transform="translate(233.26 666.90) scale(1.0 1.04)" font-size="9.3" font-weight="bold" text-anchor="middle" fill="#111" stroke="#111" stroke-width="0.2">1A</text>
<text transform="translate(247.62 650.00) scale(1.0 1.04)" font-size="9.0" font-weight="bold" text-anchor="middle" fill="#111" stroke="#111" stroke-width="0.35">-</text>
<text transform="translate(255.02 650.20) scale(1.0 1.04)" font-size="9.0" font-weight="bold" text-anchor="middle" fill="#111" stroke="#111" stroke-width="0.35">+</text>
<path d="M243.02 653.10 V655.40 H258.62 V653.10" fill="none" stroke="#000" stroke-width="1.6"/>
<text transform="translate(251.62 666.90) scale(1.0 1.04)" font-size="9.3" font-weight="bold" text-anchor="middle" fill="#111" stroke="#111" stroke-width="0.2">2A</text>
<text transform="translate(265.98 650.00) scale(1.0 1.04)" font-size="9.0" font-weight="bold" text-anchor="middle" fill="#111" stroke="#111" stroke-width="0.35">-</text>
<text transform="translate(273.38 650.20) scale(1.0 1.04)" font-size="9.0" font-weight="bold" text-anchor="middle" fill="#111" stroke="#111" stroke-width="0.35">+</text>
<path d="M261.38 653.10 V655.40 H276.98 V653.10" fill="none" stroke="#000" stroke-width="1.6"/>
<text transform="translate(269.98 666.90) scale(1.0 1.04)" font-size="9.3" font-weight="bold" text-anchor="middle" fill="#111" stroke="#111" stroke-width="0.2">2B</text>
<text transform="translate(284.34 650.00) scale(1.0 1.04)" font-size="9.0" font-weight="bold" text-anchor="middle" fill="#111" stroke="#111" stroke-width="0.35">-</text>
<text transform="translate(291.74 650.20) scale(1.0 1.04)" font-size="9.0" font-weight="bold" text-anchor="middle" fill="#111" stroke="#111" stroke-width="0.35">+</text>
<path d="M279.74 653.10 V655.40 H295.34 V653.10" fill="none" stroke="#000" stroke-width="1.6"/>
<text transform="translate(288.34 666.90) scale(1.0 1.04)" font-size="9.3" font-weight="bold" text-anchor="middle" fill="#111" stroke="#111" stroke-width="0.2">3A</text>
<text transform="translate(302.70 650.00) scale(1.0 1.04)" font-size="9.0" font-weight="bold" text-anchor="middle" fill="#111" stroke="#111" stroke-width="0.35">-</text>
<text transform="translate(310.10 650.20) scale(1.0 1.04)" font-size="9.0" font-weight="bold" text-anchor="middle" fill="#111" stroke="#111" stroke-width="0.35">+</text>
<path d="M298.10 653.10 V655.40 H313.70 V653.10" fill="none" stroke="#000" stroke-width="1.6"/>
<text transform="translate(306.70 666.90) scale(1.0 1.04)" font-size="9.3" font-weight="bold" text-anchor="middle" fill="#111" stroke="#111" stroke-width="0.2">1</text>
<text transform="translate(321.06 650.00) scale(1.0 1.04)" font-size="9.0" font-weight="bold" text-anchor="middle" fill="#111" stroke="#111" stroke-width="0.35">-</text>
<text transform="translate(328.46 650.20) scale(1.0 1.04)" font-size="9.0" font-weight="bold" text-anchor="middle" fill="#111" stroke="#111" stroke-width="0.35">+</text>
<path d="M316.46 653.10 V655.40 H332.06 V653.10" fill="none" stroke="#000" stroke-width="1.6"/>
<text transform="translate(325.06 666.90) scale(1.0 1.04)" font-size="9.3" font-weight="bold" text-anchor="middle" fill="#111" stroke="#111" stroke-width="0.2">2B</text>
<text transform="translate(339.42 650.00) scale(1.0 1.04)" font-size="9.0" font-weight="bold" text-anchor="middle" fill="#111" stroke="#111" stroke-width="0.35">-</text>
<text transform="translate(346.82 650.20) scale(1.0 1.04)" font-size="9.0" font-weight="bold" text-anchor="middle" fill="#111" stroke="#111" stroke-width="0.35">+</text>
<path d="M334.82 653.10 V655.40 H350.42 V653.10" fill="none" stroke="#000" stroke-width="1.6"/>
<text transform="translate(343.42 666.90) scale(1.0 1.04)" font-size="9.3" font-weight="bold" text-anchor="middle" fill="#111" stroke="#111" stroke-width="0.2">4</text>
<path d="M224.66 669.70 V672.00 H295.34 V669.70" fill="none" stroke="#000" stroke-width="1.6"/>
<path d="M298.10 669.70 V672.00 H350.42 V669.70" fill="none" stroke="#000" stroke-width="1.6"/>
<text transform="translate(260.30 682.60) scale(1.0 1.04)" font-size="9.4" font-weight="bold" text-anchor="middle" fill="#111" stroke="#111" stroke-width="0.2">hFc&#947;R</text>
<text transform="translate(328.16 682.60) scale(1.0 1.04)" font-size="9.4" font-weight="bold" text-anchor="middle" fill="#111" stroke="#111" stroke-width="0.2">mFc&#947;R</text>
<text transform="translate(369.20 650.00) scale(1.0 1.04)" font-size="9.0" font-weight="bold" text-anchor="middle" fill="#111" stroke="#111" stroke-width="0.35">-</text>
<text transform="translate(376.60 650.20) scale(1.0 1.04)" font-size="9.0" font-weight="bold" text-anchor="middle" fill="#111" stroke="#111" stroke-width="0.35">+</text>
<path d="M364.60 653.10 V655.40 H380.20 V653.10" fill="none" stroke="#000" stroke-width="1.6"/>
<text transform="translate(373.20 666.90) scale(1.0 1.04)" font-size="9.3" font-weight="bold" text-anchor="middle" fill="#111" stroke="#111" stroke-width="0.2">-</text>
<text transform="translate(387.56 650.00) scale(1.0 1.04)" font-size="9.0" font-weight="bold" text-anchor="middle" fill="#111" stroke="#111" stroke-width="0.35">-</text>
<text transform="translate(394.96 650.20) scale(1.0 1.04)" font-size="9.0" font-weight="bold" text-anchor="middle" fill="#111" stroke="#111" stroke-width="0.35">+</text>
<path d="M382.96 653.10 V655.40 H398.56 V653.10" fill="none" stroke="#000" stroke-width="1.6"/>
<text transform="translate(391.56 666.90) scale(1.0 1.04)" font-size="9.3" font-weight="bold" text-anchor="middle" fill="#111" stroke="#111" stroke-width="0.2">1A</text>
<text transform="translate(405.92 650.00) scale(1.0 1.04)" font-size="9.0" font-weight="bold" text-anchor="middle" fill="#111" stroke="#111" stroke-width="0.35">-</text>
<text transform="translate(413.32 650.20) scale(1.0 1.04)" font-size="9.0" font-weight="bold" text-anchor="middle" fill="#111" stroke="#111" stroke-width="0.35">+</text>
<path d="M401.32 653.10 V655.40 H416.92 V653.10" fill="none" stroke="#000" stroke-width="1.6"/>
<text transform="translate(409.92 666.90) scale(1.0 1.04)" font-size="9.3" font-weight="bold" text-anchor="middle" fill="#111" stroke="#111" stroke-width="0.2">2A</text>
<text transform="translate(424.28 650.00) scale(1.0 1.04)" font-size="9.0" font-weight="bold" text-anchor="middle" fill="#111" stroke="#111" stroke-width="0.35">-</text>
<text transform="translate(431.68 650.20) scale(1.0 1.04)" font-size="9.0" font-weight="bold" text-anchor="middle" fill="#111" stroke="#111" stroke-width="0.35">+</text>
<path d="M419.68 653.10 V655.40 H435.28 V653.10" fill="none" stroke="#000" stroke-width="1.6"/>
<text transform="translate(428.28 666.90) scale(1.0 1.04)" font-size="9.3" font-weight="bold" text-anchor="middle" fill="#111" stroke="#111" stroke-width="0.2">2B</text>
<text transform="translate(442.64 650.00) scale(1.0 1.04)" font-size="9.0" font-weight="bold" text-anchor="middle" fill="#111" stroke="#111" stroke-width="0.35">-</text>
<text transform="translate(450.04 650.20) scale(1.0 1.04)" font-size="9.0" font-weight="bold" text-anchor="middle" fill="#111" stroke="#111" stroke-width="0.35">+</text>
<path d="M438.04 653.10 V655.40 H453.64 V653.10" fill="none" stroke="#000" stroke-width="1.6"/>
<text transform="translate(446.64 666.90) scale(1.0 1.04)" font-size="9.3" font-weight="bold" text-anchor="middle" fill="#111" stroke="#111" stroke-width="0.2">3A</text>
<text transform="translate(461.00 650.00) scale(1.0 1.04)" font-size="9.0" font-weight="bold" text-anchor="middle" fill="#111" stroke="#111" stroke-width="0.35">-</text>
<text transform="translate(468.40 650.20) scale(1.0 1.04)" font-size="9.0" font-weight="bold" text-anchor="middle" fill="#111" stroke="#111" stroke-width="0.35">+</text>
<path d="M456.40 653.10 V655.40 H472.00 V653.10" fill="none" stroke="#000" stroke-width="1.6"/>
<text transform="translate(465.00 666.90) scale(1.0 1.04)" font-size="9.3" font-weight="bold" text-anchor="middle" fill="#111" stroke="#111" stroke-width="0.2">1</text>
<text transform="translate(479.36 650.00) scale(1.0 1.04)" font-size="9.0" font-weight="bold" text-anchor="middle" fill="#111" stroke="#111" stroke-width="0.35">-</text>
<text transform="translate(486.76 650.20) scale(1.0 1.04)" font-size="9.0" font-weight="bold" text-anchor="middle" fill="#111" stroke="#111" stroke-width="0.35">+</text>
<path d="M474.76 653.10 V655.40 H490.36 V653.10" fill="none" stroke="#000" stroke-width="1.6"/>
<text transform="translate(483.36 666.90) scale(1.0 1.04)" font-size="9.3" font-weight="bold" text-anchor="middle" fill="#111" stroke="#111" stroke-width="0.2">2B</text>
<text transform="translate(497.72 650.00) scale(1.0 1.04)" font-size="9.0" font-weight="bold" text-anchor="middle" fill="#111" stroke="#111" stroke-width="0.35">-</text>
<text transform="translate(505.12 650.20) scale(1.0 1.04)" font-size="9.0" font-weight="bold" text-anchor="middle" fill="#111" stroke="#111" stroke-width="0.35">+</text>
<path d="M493.12 653.10 V655.40 H508.72 V653.10" fill="none" stroke="#000" stroke-width="1.6"/>
<text transform="translate(501.72 666.90) scale(1.0 1.04)" font-size="9.3" font-weight="bold" text-anchor="middle" fill="#111" stroke="#111" stroke-width="0.2">4</text>
<path d="M382.96 669.70 V672.00 H453.64 V669.70" fill="none" stroke="#000" stroke-width="1.6"/>
<path d="M456.40 669.70 V672.00 H508.72 V669.70" fill="none" stroke="#000" stroke-width="1.6"/>
<text transform="translate(418.60 682.60) scale(1.0 1.04)" font-size="9.4" font-weight="bold" text-anchor="middle" fill="#111" stroke="#111" stroke-width="0.2">hFc&#947;R</text>
<text transform="translate(486.46 682.60) scale(1.0 1.04)" font-size="9.4" font-weight="bold" text-anchor="middle" fill="#111" stroke="#111" stroke-width="0.2">mFc&#947;R</text>
</svg>
</body></html>
